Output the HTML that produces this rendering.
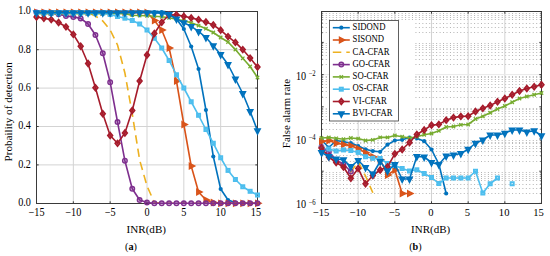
<!DOCTYPE html>
<html><head><meta charset="utf-8"><style>
html,body{margin:0;padding:0;background:#fff;}
body{width:550px;height:256px;overflow:hidden;font-family:"Liberation Serif",serif;}
svg{display:block;}
</style></head><body>
<svg width="550" height="256" viewBox="0 0 550 256">
<defs><clipPath id="cl"><rect x="36.5" y="4" width="221.0" height="199.5"/></clipPath><clipPath id="cr"><rect x="321.5" y="4" width="220.0" height="199.5"/></clipPath></defs>
<rect width="550" height="256" fill="#fff"/>
<line x1="73.33" y1="11.5" x2="73.33" y2="203.5" stroke="#D3D3D3" stroke-width="1"/>
<line x1="110.17" y1="11.5" x2="110.17" y2="203.5" stroke="#D3D3D3" stroke-width="1"/>
<line x1="147.00" y1="11.5" x2="147.00" y2="203.5" stroke="#D3D3D3" stroke-width="1"/>
<line x1="183.83" y1="11.5" x2="183.83" y2="203.5" stroke="#D3D3D3" stroke-width="1"/>
<line x1="220.67" y1="11.5" x2="220.67" y2="203.5" stroke="#D3D3D3" stroke-width="1"/>
<line x1="36.5" y1="164.90" x2="257.5" y2="164.90" stroke="#D3D3D3" stroke-width="1"/>
<line x1="36.5" y1="126.50" x2="257.5" y2="126.50" stroke="#D3D3D3" stroke-width="1"/>
<line x1="36.5" y1="88.10" x2="257.5" y2="88.10" stroke="#D3D3D3" stroke-width="1"/>
<line x1="36.5" y1="49.70" x2="257.5" y2="49.70" stroke="#D3D3D3" stroke-width="1"/>
<rect x="36.5" y="11.5" width="221.0" height="192.0" fill="none" stroke="#3A3A3A" stroke-width="1"/>
<line x1="36.50" y1="203.5" x2="36.50" y2="201.3" stroke="#3A3A3A" stroke-width="1"/>
<line x1="36.50" y1="11.5" x2="36.50" y2="13.7" stroke="#3A3A3A" stroke-width="1"/>
<line x1="73.33" y1="203.5" x2="73.33" y2="201.3" stroke="#3A3A3A" stroke-width="1"/>
<line x1="73.33" y1="11.5" x2="73.33" y2="13.7" stroke="#3A3A3A" stroke-width="1"/>
<line x1="110.17" y1="203.5" x2="110.17" y2="201.3" stroke="#3A3A3A" stroke-width="1"/>
<line x1="110.17" y1="11.5" x2="110.17" y2="13.7" stroke="#3A3A3A" stroke-width="1"/>
<line x1="147.00" y1="203.5" x2="147.00" y2="201.3" stroke="#3A3A3A" stroke-width="1"/>
<line x1="147.00" y1="11.5" x2="147.00" y2="13.7" stroke="#3A3A3A" stroke-width="1"/>
<line x1="183.83" y1="203.5" x2="183.83" y2="201.3" stroke="#3A3A3A" stroke-width="1"/>
<line x1="183.83" y1="11.5" x2="183.83" y2="13.7" stroke="#3A3A3A" stroke-width="1"/>
<line x1="220.67" y1="203.5" x2="220.67" y2="201.3" stroke="#3A3A3A" stroke-width="1"/>
<line x1="220.67" y1="11.5" x2="220.67" y2="13.7" stroke="#3A3A3A" stroke-width="1"/>
<line x1="257.50" y1="203.5" x2="257.50" y2="201.3" stroke="#3A3A3A" stroke-width="1"/>
<line x1="257.50" y1="11.5" x2="257.50" y2="13.7" stroke="#3A3A3A" stroke-width="1"/>
<line x1="36.5" y1="203.50" x2="38.7" y2="203.50" stroke="#3A3A3A" stroke-width="1"/>
<line x1="257.5" y1="203.50" x2="255.3" y2="203.50" stroke="#3A3A3A" stroke-width="1"/>
<line x1="36.5" y1="164.90" x2="38.7" y2="164.90" stroke="#3A3A3A" stroke-width="1"/>
<line x1="257.5" y1="164.90" x2="255.3" y2="164.90" stroke="#3A3A3A" stroke-width="1"/>
<line x1="36.5" y1="126.50" x2="38.7" y2="126.50" stroke="#3A3A3A" stroke-width="1"/>
<line x1="257.5" y1="126.50" x2="255.3" y2="126.50" stroke="#3A3A3A" stroke-width="1"/>
<line x1="36.5" y1="88.10" x2="38.7" y2="88.10" stroke="#3A3A3A" stroke-width="1"/>
<line x1="257.5" y1="88.10" x2="255.3" y2="88.10" stroke="#3A3A3A" stroke-width="1"/>
<line x1="36.5" y1="49.70" x2="38.7" y2="49.70" stroke="#3A3A3A" stroke-width="1"/>
<line x1="257.5" y1="49.70" x2="255.3" y2="49.70" stroke="#3A3A3A" stroke-width="1"/>
<line x1="36.5" y1="11.50" x2="38.7" y2="11.50" stroke="#3A3A3A" stroke-width="1"/>
<line x1="257.5" y1="11.50" x2="255.3" y2="11.50" stroke="#3A3A3A" stroke-width="1"/>
<g>
<path d="M36.50,12.20 L43.87,12.20 L51.23,12.20 L58.60,12.20 L65.97,12.20 L73.33,12.20 L80.70,12.20 L88.07,12.20 L95.43,12.20 L102.80,12.20 L110.17,12.20 L117.53,12.20 L124.90,12.20 L132.27,12.20 L139.63,12.20 L147.00,12.20 L154.37,12.20 L161.73,12.20 L169.10,13.20 L176.47,19.00 L183.83,29.00 L191.20,46.50 L198.57,69.00 L205.93,110.00 L213.30,156.50 L220.67,189.00 L228.03,200.00 L235.40,202.50 L242.77,203.30 L250.13,203.30 L257.50,203.30" fill="none" stroke="#0072BD" stroke-width="1.6" stroke-linejoin="round"/>
<circle cx="36.50" cy="12.20" r="2.1" fill="#0072BD"/>
<circle cx="43.87" cy="12.20" r="2.1" fill="#0072BD"/>
<circle cx="51.23" cy="12.20" r="2.1" fill="#0072BD"/>
<circle cx="58.60" cy="12.20" r="2.1" fill="#0072BD"/>
<circle cx="65.97" cy="12.20" r="2.1" fill="#0072BD"/>
<circle cx="73.33" cy="12.20" r="2.1" fill="#0072BD"/>
<circle cx="80.70" cy="12.20" r="2.1" fill="#0072BD"/>
<circle cx="88.07" cy="12.20" r="2.1" fill="#0072BD"/>
<circle cx="95.43" cy="12.20" r="2.1" fill="#0072BD"/>
<circle cx="102.80" cy="12.20" r="2.1" fill="#0072BD"/>
<circle cx="110.17" cy="12.20" r="2.1" fill="#0072BD"/>
<circle cx="117.53" cy="12.20" r="2.1" fill="#0072BD"/>
<circle cx="124.90" cy="12.20" r="2.1" fill="#0072BD"/>
<circle cx="132.27" cy="12.20" r="2.1" fill="#0072BD"/>
<circle cx="139.63" cy="12.20" r="2.1" fill="#0072BD"/>
<circle cx="147.00" cy="12.20" r="2.1" fill="#0072BD"/>
<circle cx="154.37" cy="12.20" r="2.1" fill="#0072BD"/>
<circle cx="161.73" cy="12.20" r="2.1" fill="#0072BD"/>
<circle cx="169.10" cy="13.20" r="2.1" fill="#0072BD"/>
<circle cx="176.47" cy="19.00" r="2.1" fill="#0072BD"/>
<circle cx="183.83" cy="29.00" r="2.1" fill="#0072BD"/>
<circle cx="191.20" cy="46.50" r="2.1" fill="#0072BD"/>
<circle cx="198.57" cy="69.00" r="2.1" fill="#0072BD"/>
<circle cx="205.93" cy="110.00" r="2.1" fill="#0072BD"/>
<circle cx="213.30" cy="156.50" r="2.1" fill="#0072BD"/>
<circle cx="220.67" cy="189.00" r="2.1" fill="#0072BD"/>
<circle cx="228.03" cy="200.00" r="2.1" fill="#0072BD"/>
<circle cx="235.40" cy="202.50" r="2.1" fill="#0072BD"/>
<circle cx="242.77" cy="203.30" r="2.1" fill="#0072BD"/>
<circle cx="250.13" cy="203.30" r="2.1" fill="#0072BD"/>
<circle cx="257.50" cy="203.30" r="2.1" fill="#0072BD"/>
<path d="M36.50,12.40 L43.87,12.40 L51.23,12.40 L58.60,12.40 L65.97,12.40 L73.33,12.40 L80.70,12.40 L88.07,12.40 L95.43,12.40 L102.80,12.40 L110.17,12.40 L117.53,12.40 L124.90,12.40 L132.27,12.40 L139.63,12.40 L147.00,12.50 L154.37,20.50 L161.73,30.00 L169.10,48.00 L176.47,81.00 L183.83,124.50 L191.20,166.00 L198.57,192.00 L205.93,200.00 L213.30,202.50 L220.67,203.30 L228.03,203.30 L235.40,203.30 L242.77,203.30 L250.13,203.30 L257.50,203.30" fill="none" stroke="#D95319" stroke-width="1.6" stroke-linejoin="round"/>
<path d="M34.80,9.80L39.80,12.40L34.80,15.00Z" fill="#D95319" fill-opacity="0.9" stroke="#D95319" stroke-width="1.6" stroke-linejoin="miter"/>
<path d="M42.17,9.80L47.17,12.40L42.17,15.00Z" fill="#D95319" fill-opacity="0.9" stroke="#D95319" stroke-width="1.6" stroke-linejoin="miter"/>
<path d="M49.53,9.80L54.53,12.40L49.53,15.00Z" fill="#D95319" fill-opacity="0.9" stroke="#D95319" stroke-width="1.6" stroke-linejoin="miter"/>
<path d="M56.90,9.80L61.90,12.40L56.90,15.00Z" fill="#D95319" fill-opacity="0.9" stroke="#D95319" stroke-width="1.6" stroke-linejoin="miter"/>
<path d="M64.27,9.80L69.27,12.40L64.27,15.00Z" fill="#D95319" fill-opacity="0.9" stroke="#D95319" stroke-width="1.6" stroke-linejoin="miter"/>
<path d="M71.63,9.80L76.63,12.40L71.63,15.00Z" fill="#D95319" fill-opacity="0.9" stroke="#D95319" stroke-width="1.6" stroke-linejoin="miter"/>
<path d="M79.00,9.80L84.00,12.40L79.00,15.00Z" fill="#D95319" fill-opacity="0.9" stroke="#D95319" stroke-width="1.6" stroke-linejoin="miter"/>
<path d="M86.37,9.80L91.37,12.40L86.37,15.00Z" fill="#D95319" fill-opacity="0.9" stroke="#D95319" stroke-width="1.6" stroke-linejoin="miter"/>
<path d="M93.73,9.80L98.73,12.40L93.73,15.00Z" fill="#D95319" fill-opacity="0.9" stroke="#D95319" stroke-width="1.6" stroke-linejoin="miter"/>
<path d="M101.10,9.80L106.10,12.40L101.10,15.00Z" fill="#D95319" fill-opacity="0.9" stroke="#D95319" stroke-width="1.6" stroke-linejoin="miter"/>
<path d="M108.47,9.80L113.47,12.40L108.47,15.00Z" fill="#D95319" fill-opacity="0.9" stroke="#D95319" stroke-width="1.6" stroke-linejoin="miter"/>
<path d="M115.83,9.80L120.83,12.40L115.83,15.00Z" fill="#D95319" fill-opacity="0.9" stroke="#D95319" stroke-width="1.6" stroke-linejoin="miter"/>
<path d="M123.20,9.80L128.20,12.40L123.20,15.00Z" fill="#D95319" fill-opacity="0.9" stroke="#D95319" stroke-width="1.6" stroke-linejoin="miter"/>
<path d="M130.57,9.80L135.57,12.40L130.57,15.00Z" fill="#D95319" fill-opacity="0.9" stroke="#D95319" stroke-width="1.6" stroke-linejoin="miter"/>
<path d="M137.93,9.80L142.93,12.40L137.93,15.00Z" fill="#D95319" fill-opacity="0.9" stroke="#D95319" stroke-width="1.6" stroke-linejoin="miter"/>
<path d="M145.30,9.90L150.30,12.50L145.30,15.10Z" fill="#D95319" fill-opacity="0.9" stroke="#D95319" stroke-width="1.6" stroke-linejoin="miter"/>
<path d="M152.67,17.90L157.67,20.50L152.67,23.10Z" fill="#D95319" fill-opacity="0.9" stroke="#D95319" stroke-width="1.6" stroke-linejoin="miter"/>
<path d="M160.03,27.40L165.03,30.00L160.03,32.60Z" fill="#D95319" fill-opacity="0.9" stroke="#D95319" stroke-width="1.6" stroke-linejoin="miter"/>
<path d="M167.40,45.40L172.40,48.00L167.40,50.60Z" fill="#D95319" fill-opacity="0.9" stroke="#D95319" stroke-width="1.6" stroke-linejoin="miter"/>
<path d="M174.77,78.40L179.77,81.00L174.77,83.60Z" fill="#D95319" fill-opacity="0.9" stroke="#D95319" stroke-width="1.6" stroke-linejoin="miter"/>
<path d="M182.13,121.90L187.13,124.50L182.13,127.10Z" fill="#D95319" fill-opacity="0.9" stroke="#D95319" stroke-width="1.6" stroke-linejoin="miter"/>
<path d="M189.50,163.40L194.50,166.00L189.50,168.60Z" fill="#D95319" fill-opacity="0.9" stroke="#D95319" stroke-width="1.6" stroke-linejoin="miter"/>
<path d="M196.87,189.40L201.87,192.00L196.87,194.60Z" fill="#D95319" fill-opacity="0.9" stroke="#D95319" stroke-width="1.6" stroke-linejoin="miter"/>
<path d="M204.23,197.40L209.23,200.00L204.23,202.60Z" fill="#D95319" fill-opacity="0.9" stroke="#D95319" stroke-width="1.6" stroke-linejoin="miter"/>
<path d="M211.60,199.90L216.60,202.50L211.60,205.10Z" fill="#D95319" fill-opacity="0.9" stroke="#D95319" stroke-width="1.6" stroke-linejoin="miter"/>
<path d="M218.97,200.70L223.97,203.30L218.97,205.90Z" fill="#D95319" fill-opacity="0.9" stroke="#D95319" stroke-width="1.6" stroke-linejoin="miter"/>
<path d="M226.33,200.70L231.33,203.30L226.33,205.90Z" fill="#D95319" fill-opacity="0.9" stroke="#D95319" stroke-width="1.6" stroke-linejoin="miter"/>
<path d="M233.70,200.70L238.70,203.30L233.70,205.90Z" fill="#D95319" fill-opacity="0.9" stroke="#D95319" stroke-width="1.6" stroke-linejoin="miter"/>
<path d="M241.07,200.70L246.07,203.30L241.07,205.90Z" fill="#D95319" fill-opacity="0.9" stroke="#D95319" stroke-width="1.6" stroke-linejoin="miter"/>
<path d="M248.43,200.70L253.43,203.30L248.43,205.90Z" fill="#D95319" fill-opacity="0.9" stroke="#D95319" stroke-width="1.6" stroke-linejoin="miter"/>
<path d="M255.80,200.70L260.80,203.30L255.80,205.90Z" fill="#D95319" fill-opacity="0.9" stroke="#D95319" stroke-width="1.6" stroke-linejoin="miter"/>
<path d="M36.50,11.50 L43.87,11.50 L51.23,11.50 L58.60,11.50 L65.97,11.50 L73.33,11.50 L80.70,11.80 L88.07,13.00 L95.43,16.00 L102.80,21.00 L110.17,30.00 L117.53,45.00 L124.90,73.00 L132.27,114.00 L139.63,160.00 L147.00,186.00 L154.37,202.50 L161.73,203.30 L169.10,203.30 L176.47,203.30 L183.83,203.30 L191.20,203.30 L198.57,203.30 L205.93,203.30 L213.30,203.30 L220.67,203.30 L228.03,203.30 L235.40,203.30 L242.77,203.30 L250.13,203.30 L257.50,203.30" fill="none" stroke="#EDB120" stroke-width="1.6" stroke-linejoin="round" stroke-dasharray="8.5,5" stroke-dashoffset="0"/>
<path d="M36.50,12.50 L43.87,12.80 L51.23,13.30 L58.60,14.30 L65.97,15.90 L73.33,16.90 L80.70,18.40 L88.07,24.00 L95.43,35.00 L102.80,53.30 L110.17,82.30 L117.53,122.00 L124.90,160.70 L132.27,188.80 L139.63,200.00 L147.00,202.50 L154.37,203.30 L161.73,203.30 L169.10,203.30 L176.47,203.30 L183.83,203.30 L191.20,203.30 L198.57,203.30 L205.93,203.30 L213.30,203.30 L220.67,203.30 L228.03,203.30 L235.40,203.30 L242.77,203.30 L250.13,203.30 L257.50,203.30" fill="none" stroke="#7E2F8E" stroke-width="1.6" stroke-linejoin="round"/>
<circle cx="36.50" cy="12.50" r="2.3" fill="#7E2F8E" fill-opacity="0.35" stroke="#7E2F8E" stroke-width="1.36"/>
<circle cx="43.87" cy="12.80" r="2.3" fill="#7E2F8E" fill-opacity="0.35" stroke="#7E2F8E" stroke-width="1.36"/>
<circle cx="51.23" cy="13.30" r="2.3" fill="#7E2F8E" fill-opacity="0.35" stroke="#7E2F8E" stroke-width="1.36"/>
<circle cx="58.60" cy="14.30" r="2.3" fill="#7E2F8E" fill-opacity="0.35" stroke="#7E2F8E" stroke-width="1.36"/>
<circle cx="65.97" cy="15.90" r="2.3" fill="#7E2F8E" fill-opacity="0.35" stroke="#7E2F8E" stroke-width="1.36"/>
<circle cx="73.33" cy="16.90" r="2.3" fill="#7E2F8E" fill-opacity="0.35" stroke="#7E2F8E" stroke-width="1.36"/>
<circle cx="80.70" cy="18.40" r="2.3" fill="#7E2F8E" fill-opacity="0.35" stroke="#7E2F8E" stroke-width="1.36"/>
<circle cx="88.07" cy="24.00" r="2.3" fill="#7E2F8E" fill-opacity="0.35" stroke="#7E2F8E" stroke-width="1.36"/>
<circle cx="95.43" cy="35.00" r="2.3" fill="#7E2F8E" fill-opacity="0.35" stroke="#7E2F8E" stroke-width="1.36"/>
<circle cx="102.80" cy="53.30" r="2.3" fill="#7E2F8E" fill-opacity="0.35" stroke="#7E2F8E" stroke-width="1.36"/>
<circle cx="110.17" cy="82.30" r="2.3" fill="#7E2F8E" fill-opacity="0.35" stroke="#7E2F8E" stroke-width="1.36"/>
<circle cx="117.53" cy="122.00" r="2.3" fill="#7E2F8E" fill-opacity="0.35" stroke="#7E2F8E" stroke-width="1.36"/>
<circle cx="124.90" cy="160.70" r="2.3" fill="#7E2F8E" fill-opacity="0.35" stroke="#7E2F8E" stroke-width="1.36"/>
<circle cx="132.27" cy="188.80" r="2.3" fill="#7E2F8E" fill-opacity="0.35" stroke="#7E2F8E" stroke-width="1.36"/>
<circle cx="139.63" cy="200.00" r="2.3" fill="#7E2F8E" fill-opacity="0.35" stroke="#7E2F8E" stroke-width="1.36"/>
<circle cx="147.00" cy="202.50" r="2.3" fill="#7E2F8E" fill-opacity="0.35" stroke="#7E2F8E" stroke-width="1.36"/>
<circle cx="154.37" cy="203.30" r="2.3" fill="#7E2F8E" fill-opacity="0.35" stroke="#7E2F8E" stroke-width="1.36"/>
<circle cx="161.73" cy="203.30" r="2.3" fill="#7E2F8E" fill-opacity="0.35" stroke="#7E2F8E" stroke-width="1.36"/>
<circle cx="169.10" cy="203.30" r="2.3" fill="#7E2F8E" fill-opacity="0.35" stroke="#7E2F8E" stroke-width="1.36"/>
<circle cx="176.47" cy="203.30" r="2.3" fill="#7E2F8E" fill-opacity="0.35" stroke="#7E2F8E" stroke-width="1.36"/>
<circle cx="183.83" cy="203.30" r="2.3" fill="#7E2F8E" fill-opacity="0.35" stroke="#7E2F8E" stroke-width="1.36"/>
<circle cx="191.20" cy="203.30" r="2.3" fill="#7E2F8E" fill-opacity="0.35" stroke="#7E2F8E" stroke-width="1.36"/>
<circle cx="198.57" cy="203.30" r="2.3" fill="#7E2F8E" fill-opacity="0.35" stroke="#7E2F8E" stroke-width="1.36"/>
<circle cx="205.93" cy="203.30" r="2.3" fill="#7E2F8E" fill-opacity="0.35" stroke="#7E2F8E" stroke-width="1.36"/>
<circle cx="213.30" cy="203.30" r="2.3" fill="#7E2F8E" fill-opacity="0.35" stroke="#7E2F8E" stroke-width="1.36"/>
<circle cx="220.67" cy="203.30" r="2.3" fill="#7E2F8E" fill-opacity="0.35" stroke="#7E2F8E" stroke-width="1.36"/>
<circle cx="228.03" cy="203.30" r="2.3" fill="#7E2F8E" fill-opacity="0.35" stroke="#7E2F8E" stroke-width="1.36"/>
<circle cx="235.40" cy="203.30" r="2.3" fill="#7E2F8E" fill-opacity="0.35" stroke="#7E2F8E" stroke-width="1.36"/>
<circle cx="242.77" cy="203.30" r="2.3" fill="#7E2F8E" fill-opacity="0.35" stroke="#7E2F8E" stroke-width="1.36"/>
<circle cx="250.13" cy="203.30" r="2.3" fill="#7E2F8E" fill-opacity="0.35" stroke="#7E2F8E" stroke-width="1.36"/>
<circle cx="257.50" cy="203.30" r="2.3" fill="#7E2F8E" fill-opacity="0.35" stroke="#7E2F8E" stroke-width="1.36"/>
<path d="M36.50,13.60 L43.87,13.60 L51.23,13.60 L58.60,13.60 L65.97,13.60 L73.33,13.60 L80.70,13.60 L88.07,13.60 L95.43,13.60 L102.80,13.60 L110.17,13.60 L117.53,13.60 L124.90,13.60 L132.27,15.20 L139.63,15.50 L147.00,15.80 L154.37,16.20 L161.73,16.80 L169.10,17.80 L176.47,19.20 L183.83,20.70 L191.20,22.80 L198.57,25.60 L205.93,28.70 L213.30,32.50 L220.67,37.50 L228.03,42.00 L235.40,49.60 L242.77,58.30 L250.13,66.50 L257.50,77.50" fill="none" stroke="#77AC30" stroke-width="1.6" stroke-linejoin="round"/>
<path d="M34.80,11.90L38.20,15.30M34.80,15.30L38.20,11.90" stroke="#77AC30" stroke-width="1.28"/>
<path d="M42.17,11.90L45.57,15.30M42.17,15.30L45.57,11.90" stroke="#77AC30" stroke-width="1.28"/>
<path d="M49.53,11.90L52.93,15.30M49.53,15.30L52.93,11.90" stroke="#77AC30" stroke-width="1.28"/>
<path d="M56.90,11.90L60.30,15.30M56.90,15.30L60.30,11.90" stroke="#77AC30" stroke-width="1.28"/>
<path d="M64.27,11.90L67.67,15.30M64.27,15.30L67.67,11.90" stroke="#77AC30" stroke-width="1.28"/>
<path d="M71.63,11.90L75.03,15.30M71.63,15.30L75.03,11.90" stroke="#77AC30" stroke-width="1.28"/>
<path d="M79.00,11.90L82.40,15.30M79.00,15.30L82.40,11.90" stroke="#77AC30" stroke-width="1.28"/>
<path d="M86.37,11.90L89.77,15.30M86.37,15.30L89.77,11.90" stroke="#77AC30" stroke-width="1.28"/>
<path d="M93.73,11.90L97.13,15.30M93.73,15.30L97.13,11.90" stroke="#77AC30" stroke-width="1.28"/>
<path d="M101.10,11.90L104.50,15.30M101.10,15.30L104.50,11.90" stroke="#77AC30" stroke-width="1.28"/>
<path d="M108.47,11.90L111.87,15.30M108.47,15.30L111.87,11.90" stroke="#77AC30" stroke-width="1.28"/>
<path d="M115.83,11.90L119.23,15.30M115.83,15.30L119.23,11.90" stroke="#77AC30" stroke-width="1.28"/>
<path d="M123.20,11.90L126.60,15.30M123.20,15.30L126.60,11.90" stroke="#77AC30" stroke-width="1.28"/>
<path d="M130.57,13.50L133.97,16.90M130.57,16.90L133.97,13.50" stroke="#77AC30" stroke-width="1.28"/>
<path d="M137.93,13.80L141.33,17.20M137.93,17.20L141.33,13.80" stroke="#77AC30" stroke-width="1.28"/>
<path d="M145.30,14.10L148.70,17.50M145.30,17.50L148.70,14.10" stroke="#77AC30" stroke-width="1.28"/>
<path d="M152.67,14.50L156.07,17.90M152.67,17.90L156.07,14.50" stroke="#77AC30" stroke-width="1.28"/>
<path d="M160.03,15.10L163.43,18.50M160.03,18.50L163.43,15.10" stroke="#77AC30" stroke-width="1.28"/>
<path d="M167.40,16.10L170.80,19.50M167.40,19.50L170.80,16.10" stroke="#77AC30" stroke-width="1.28"/>
<path d="M174.77,17.50L178.17,20.90M174.77,20.90L178.17,17.50" stroke="#77AC30" stroke-width="1.28"/>
<path d="M182.13,19.00L185.53,22.40M182.13,22.40L185.53,19.00" stroke="#77AC30" stroke-width="1.28"/>
<path d="M189.50,21.10L192.90,24.50M189.50,24.50L192.90,21.10" stroke="#77AC30" stroke-width="1.28"/>
<path d="M196.87,23.90L200.27,27.30M196.87,27.30L200.27,23.90" stroke="#77AC30" stroke-width="1.28"/>
<path d="M204.23,27.00L207.63,30.40M204.23,30.40L207.63,27.00" stroke="#77AC30" stroke-width="1.28"/>
<path d="M211.60,30.80L215.00,34.20M211.60,34.20L215.00,30.80" stroke="#77AC30" stroke-width="1.28"/>
<path d="M218.97,35.80L222.37,39.20M218.97,39.20L222.37,35.80" stroke="#77AC30" stroke-width="1.28"/>
<path d="M226.33,40.30L229.73,43.70M226.33,43.70L229.73,40.30" stroke="#77AC30" stroke-width="1.28"/>
<path d="M233.70,47.90L237.10,51.30M233.70,51.30L237.10,47.90" stroke="#77AC30" stroke-width="1.28"/>
<path d="M241.07,56.60L244.47,60.00M241.07,60.00L244.47,56.60" stroke="#77AC30" stroke-width="1.28"/>
<path d="M248.43,64.80L251.83,68.20M248.43,68.20L251.83,64.80" stroke="#77AC30" stroke-width="1.28"/>
<path d="M255.80,75.80L259.20,79.20M255.80,79.20L259.20,75.80" stroke="#77AC30" stroke-width="1.28"/>
<path d="M36.50,13.00 L43.87,13.00 L51.23,13.00 L58.60,13.00 L65.97,13.00 L73.33,13.00 L80.70,13.00 L88.07,13.00 L95.43,13.00 L102.80,13.00 L110.17,14.50 L117.53,16.50 L124.90,18.20 L132.27,20.50 L139.63,24.00 L147.00,30.00 L154.37,38.30 L161.73,48.00 L169.10,60.50 L176.47,74.75 L183.83,88.00 L191.20,101.75 L198.57,115.30 L205.93,129.50 L213.30,143.25 L220.67,157.75 L228.03,170.40 L235.40,179.50 L242.77,186.75 L250.13,191.30 L257.50,195.00" fill="none" stroke="#4DBEEE" stroke-width="1.6" stroke-linejoin="round"/>
<rect x="34.95" y="11.45" width="3.10" height="3.10" fill="none" stroke="#4DBEEE" stroke-width="1.9"/>
<rect x="42.32" y="11.45" width="3.10" height="3.10" fill="none" stroke="#4DBEEE" stroke-width="1.9"/>
<rect x="49.68" y="11.45" width="3.10" height="3.10" fill="none" stroke="#4DBEEE" stroke-width="1.9"/>
<rect x="57.05" y="11.45" width="3.10" height="3.10" fill="none" stroke="#4DBEEE" stroke-width="1.9"/>
<rect x="64.42" y="11.45" width="3.10" height="3.10" fill="none" stroke="#4DBEEE" stroke-width="1.9"/>
<rect x="71.78" y="11.45" width="3.10" height="3.10" fill="none" stroke="#4DBEEE" stroke-width="1.9"/>
<rect x="79.15" y="11.45" width="3.10" height="3.10" fill="none" stroke="#4DBEEE" stroke-width="1.9"/>
<rect x="86.52" y="11.45" width="3.10" height="3.10" fill="none" stroke="#4DBEEE" stroke-width="1.9"/>
<rect x="93.88" y="11.45" width="3.10" height="3.10" fill="none" stroke="#4DBEEE" stroke-width="1.9"/>
<rect x="101.25" y="11.45" width="3.10" height="3.10" fill="none" stroke="#4DBEEE" stroke-width="1.9"/>
<rect x="108.62" y="12.95" width="3.10" height="3.10" fill="none" stroke="#4DBEEE" stroke-width="1.9"/>
<rect x="115.98" y="14.95" width="3.10" height="3.10" fill="none" stroke="#4DBEEE" stroke-width="1.9"/>
<rect x="123.35" y="16.65" width="3.10" height="3.10" fill="none" stroke="#4DBEEE" stroke-width="1.9"/>
<rect x="130.72" y="18.95" width="3.10" height="3.10" fill="none" stroke="#4DBEEE" stroke-width="1.9"/>
<rect x="138.08" y="22.45" width="3.10" height="3.10" fill="none" stroke="#4DBEEE" stroke-width="1.9"/>
<rect x="145.45" y="28.45" width="3.10" height="3.10" fill="none" stroke="#4DBEEE" stroke-width="1.9"/>
<rect x="152.82" y="36.75" width="3.10" height="3.10" fill="none" stroke="#4DBEEE" stroke-width="1.9"/>
<rect x="160.18" y="46.45" width="3.10" height="3.10" fill="none" stroke="#4DBEEE" stroke-width="1.9"/>
<rect x="167.55" y="58.95" width="3.10" height="3.10" fill="none" stroke="#4DBEEE" stroke-width="1.9"/>
<rect x="174.92" y="73.20" width="3.10" height="3.10" fill="none" stroke="#4DBEEE" stroke-width="1.9"/>
<rect x="182.28" y="86.45" width="3.10" height="3.10" fill="none" stroke="#4DBEEE" stroke-width="1.9"/>
<rect x="189.65" y="100.20" width="3.10" height="3.10" fill="none" stroke="#4DBEEE" stroke-width="1.9"/>
<rect x="197.02" y="113.75" width="3.10" height="3.10" fill="none" stroke="#4DBEEE" stroke-width="1.9"/>
<rect x="204.38" y="127.95" width="3.10" height="3.10" fill="none" stroke="#4DBEEE" stroke-width="1.9"/>
<rect x="211.75" y="141.70" width="3.10" height="3.10" fill="none" stroke="#4DBEEE" stroke-width="1.9"/>
<rect x="219.12" y="156.20" width="3.10" height="3.10" fill="none" stroke="#4DBEEE" stroke-width="1.9"/>
<rect x="226.48" y="168.85" width="3.10" height="3.10" fill="none" stroke="#4DBEEE" stroke-width="1.9"/>
<rect x="233.85" y="177.95" width="3.10" height="3.10" fill="none" stroke="#4DBEEE" stroke-width="1.9"/>
<rect x="241.22" y="185.20" width="3.10" height="3.10" fill="none" stroke="#4DBEEE" stroke-width="1.9"/>
<rect x="248.58" y="189.75" width="3.10" height="3.10" fill="none" stroke="#4DBEEE" stroke-width="1.9"/>
<rect x="255.95" y="193.45" width="3.10" height="3.10" fill="none" stroke="#4DBEEE" stroke-width="1.9"/>
<path d="M36.50,17.00 L43.87,18.25 L51.23,19.60 L58.60,22.50 L65.97,26.80 L73.33,34.40 L80.70,46.25 L88.07,63.50 L95.43,87.75 L102.80,113.75 L110.17,135.50 L117.53,143.30 L124.90,133.00 L132.27,110.50 L139.63,81.00 L147.00,55.00 L154.37,33.50 L161.73,22.30 L169.10,15.00 L176.47,14.80 L183.83,16.30 L191.20,17.90 L198.57,19.70 L205.93,22.00 L213.30,25.00 L220.67,30.20 L228.03,36.60 L235.40,42.40 L242.77,49.60 L250.13,58.10 L257.50,67.00" fill="none" stroke="#A61B2B" stroke-width="1.6" stroke-linejoin="round"/>
<path d="M36.50,14.10L38.90,17.00L36.50,19.90L34.10,17.00Z" fill="#A61B2B" fill-opacity="0.75" stroke="#A61B2B" stroke-width="1.6"/>
<path d="M43.87,15.35L46.27,18.25L43.87,21.15L41.47,18.25Z" fill="#A61B2B" fill-opacity="0.75" stroke="#A61B2B" stroke-width="1.6"/>
<path d="M51.23,16.70L53.63,19.60L51.23,22.50L48.83,19.60Z" fill="#A61B2B" fill-opacity="0.75" stroke="#A61B2B" stroke-width="1.6"/>
<path d="M58.60,19.60L61.00,22.50L58.60,25.40L56.20,22.50Z" fill="#A61B2B" fill-opacity="0.75" stroke="#A61B2B" stroke-width="1.6"/>
<path d="M65.97,23.90L68.37,26.80L65.97,29.70L63.57,26.80Z" fill="#A61B2B" fill-opacity="0.75" stroke="#A61B2B" stroke-width="1.6"/>
<path d="M73.33,31.50L75.73,34.40L73.33,37.30L70.93,34.40Z" fill="#A61B2B" fill-opacity="0.75" stroke="#A61B2B" stroke-width="1.6"/>
<path d="M80.70,43.35L83.10,46.25L80.70,49.15L78.30,46.25Z" fill="#A61B2B" fill-opacity="0.75" stroke="#A61B2B" stroke-width="1.6"/>
<path d="M88.07,60.60L90.47,63.50L88.07,66.40L85.67,63.50Z" fill="#A61B2B" fill-opacity="0.75" stroke="#A61B2B" stroke-width="1.6"/>
<path d="M95.43,84.85L97.83,87.75L95.43,90.65L93.03,87.75Z" fill="#A61B2B" fill-opacity="0.75" stroke="#A61B2B" stroke-width="1.6"/>
<path d="M102.80,110.85L105.20,113.75L102.80,116.65L100.40,113.75Z" fill="#A61B2B" fill-opacity="0.75" stroke="#A61B2B" stroke-width="1.6"/>
<path d="M110.17,132.60L112.57,135.50L110.17,138.40L107.77,135.50Z" fill="#A61B2B" fill-opacity="0.75" stroke="#A61B2B" stroke-width="1.6"/>
<path d="M117.53,140.40L119.93,143.30L117.53,146.20L115.13,143.30Z" fill="#A61B2B" fill-opacity="0.75" stroke="#A61B2B" stroke-width="1.6"/>
<path d="M124.90,130.10L127.30,133.00L124.90,135.90L122.50,133.00Z" fill="#A61B2B" fill-opacity="0.75" stroke="#A61B2B" stroke-width="1.6"/>
<path d="M132.27,107.60L134.67,110.50L132.27,113.40L129.87,110.50Z" fill="#A61B2B" fill-opacity="0.75" stroke="#A61B2B" stroke-width="1.6"/>
<path d="M139.63,78.10L142.03,81.00L139.63,83.90L137.23,81.00Z" fill="#A61B2B" fill-opacity="0.75" stroke="#A61B2B" stroke-width="1.6"/>
<path d="M147.00,52.10L149.40,55.00L147.00,57.90L144.60,55.00Z" fill="#A61B2B" fill-opacity="0.75" stroke="#A61B2B" stroke-width="1.6"/>
<path d="M154.37,30.60L156.77,33.50L154.37,36.40L151.97,33.50Z" fill="#A61B2B" fill-opacity="0.75" stroke="#A61B2B" stroke-width="1.6"/>
<path d="M161.73,19.40L164.13,22.30L161.73,25.20L159.33,22.30Z" fill="#A61B2B" fill-opacity="0.75" stroke="#A61B2B" stroke-width="1.6"/>
<path d="M169.10,12.10L171.50,15.00L169.10,17.90L166.70,15.00Z" fill="#A61B2B" fill-opacity="0.75" stroke="#A61B2B" stroke-width="1.6"/>
<path d="M176.47,11.90L178.87,14.80L176.47,17.70L174.07,14.80Z" fill="#A61B2B" fill-opacity="0.75" stroke="#A61B2B" stroke-width="1.6"/>
<path d="M183.83,13.40L186.23,16.30L183.83,19.20L181.43,16.30Z" fill="#A61B2B" fill-opacity="0.75" stroke="#A61B2B" stroke-width="1.6"/>
<path d="M191.20,15.00L193.60,17.90L191.20,20.80L188.80,17.90Z" fill="#A61B2B" fill-opacity="0.75" stroke="#A61B2B" stroke-width="1.6"/>
<path d="M198.57,16.80L200.97,19.70L198.57,22.60L196.17,19.70Z" fill="#A61B2B" fill-opacity="0.75" stroke="#A61B2B" stroke-width="1.6"/>
<path d="M205.93,19.10L208.33,22.00L205.93,24.90L203.53,22.00Z" fill="#A61B2B" fill-opacity="0.75" stroke="#A61B2B" stroke-width="1.6"/>
<path d="M213.30,22.10L215.70,25.00L213.30,27.90L210.90,25.00Z" fill="#A61B2B" fill-opacity="0.75" stroke="#A61B2B" stroke-width="1.6"/>
<path d="M220.67,27.30L223.07,30.20L220.67,33.10L218.27,30.20Z" fill="#A61B2B" fill-opacity="0.75" stroke="#A61B2B" stroke-width="1.6"/>
<path d="M228.03,33.70L230.43,36.60L228.03,39.50L225.63,36.60Z" fill="#A61B2B" fill-opacity="0.75" stroke="#A61B2B" stroke-width="1.6"/>
<path d="M235.40,39.50L237.80,42.40L235.40,45.30L233.00,42.40Z" fill="#A61B2B" fill-opacity="0.75" stroke="#A61B2B" stroke-width="1.6"/>
<path d="M242.77,46.70L245.17,49.60L242.77,52.50L240.37,49.60Z" fill="#A61B2B" fill-opacity="0.75" stroke="#A61B2B" stroke-width="1.6"/>
<path d="M250.13,55.20L252.53,58.10L250.13,61.00L247.73,58.10Z" fill="#A61B2B" fill-opacity="0.75" stroke="#A61B2B" stroke-width="1.6"/>
<path d="M257.50,64.10L259.90,67.00L257.50,69.90L255.10,67.00Z" fill="#A61B2B" fill-opacity="0.75" stroke="#A61B2B" stroke-width="1.6"/>
<path d="M36.50,12.80 L43.87,12.80 L51.23,12.80 L58.60,12.80 L65.97,12.80 L73.33,12.80 L80.70,12.80 L88.07,12.80 L95.43,12.80 L102.80,12.80 L110.17,12.80 L117.53,12.80 L124.90,12.80 L132.27,12.80 L139.63,12.80 L147.00,12.80 L154.37,12.90 L161.73,13.30 L169.10,14.60 L176.47,19.00 L183.83,22.70 L191.20,26.40 L198.57,31.40 L205.93,37.50 L213.30,45.80 L220.67,54.50 L228.03,64.50 L235.40,79.00 L242.77,93.50 L250.13,111.50 L257.50,130.75" fill="none" stroke="#0072BD" stroke-width="1.6" stroke-linejoin="round"/>
<path d="M33.90,11.10L39.10,11.10L36.50,16.10Z" fill="#0072BD" fill-opacity="0.9" stroke="#0072BD" stroke-width="1.6" stroke-linejoin="miter"/>
<path d="M41.27,11.10L46.47,11.10L43.87,16.10Z" fill="#0072BD" fill-opacity="0.9" stroke="#0072BD" stroke-width="1.6" stroke-linejoin="miter"/>
<path d="M48.63,11.10L53.83,11.10L51.23,16.10Z" fill="#0072BD" fill-opacity="0.9" stroke="#0072BD" stroke-width="1.6" stroke-linejoin="miter"/>
<path d="M56.00,11.10L61.20,11.10L58.60,16.10Z" fill="#0072BD" fill-opacity="0.9" stroke="#0072BD" stroke-width="1.6" stroke-linejoin="miter"/>
<path d="M63.37,11.10L68.57,11.10L65.97,16.10Z" fill="#0072BD" fill-opacity="0.9" stroke="#0072BD" stroke-width="1.6" stroke-linejoin="miter"/>
<path d="M70.73,11.10L75.93,11.10L73.33,16.10Z" fill="#0072BD" fill-opacity="0.9" stroke="#0072BD" stroke-width="1.6" stroke-linejoin="miter"/>
<path d="M78.10,11.10L83.30,11.10L80.70,16.10Z" fill="#0072BD" fill-opacity="0.9" stroke="#0072BD" stroke-width="1.6" stroke-linejoin="miter"/>
<path d="M85.47,11.10L90.67,11.10L88.07,16.10Z" fill="#0072BD" fill-opacity="0.9" stroke="#0072BD" stroke-width="1.6" stroke-linejoin="miter"/>
<path d="M92.83,11.10L98.03,11.10L95.43,16.10Z" fill="#0072BD" fill-opacity="0.9" stroke="#0072BD" stroke-width="1.6" stroke-linejoin="miter"/>
<path d="M100.20,11.10L105.40,11.10L102.80,16.10Z" fill="#0072BD" fill-opacity="0.9" stroke="#0072BD" stroke-width="1.6" stroke-linejoin="miter"/>
<path d="M107.57,11.10L112.77,11.10L110.17,16.10Z" fill="#0072BD" fill-opacity="0.9" stroke="#0072BD" stroke-width="1.6" stroke-linejoin="miter"/>
<path d="M114.93,11.10L120.13,11.10L117.53,16.10Z" fill="#0072BD" fill-opacity="0.9" stroke="#0072BD" stroke-width="1.6" stroke-linejoin="miter"/>
<path d="M122.30,11.10L127.50,11.10L124.90,16.10Z" fill="#0072BD" fill-opacity="0.9" stroke="#0072BD" stroke-width="1.6" stroke-linejoin="miter"/>
<path d="M129.67,11.10L134.87,11.10L132.27,16.10Z" fill="#0072BD" fill-opacity="0.9" stroke="#0072BD" stroke-width="1.6" stroke-linejoin="miter"/>
<path d="M137.03,11.10L142.23,11.10L139.63,16.10Z" fill="#0072BD" fill-opacity="0.9" stroke="#0072BD" stroke-width="1.6" stroke-linejoin="miter"/>
<path d="M144.40,11.10L149.60,11.10L147.00,16.10Z" fill="#0072BD" fill-opacity="0.9" stroke="#0072BD" stroke-width="1.6" stroke-linejoin="miter"/>
<path d="M151.77,11.20L156.97,11.20L154.37,16.20Z" fill="#0072BD" fill-opacity="0.9" stroke="#0072BD" stroke-width="1.6" stroke-linejoin="miter"/>
<path d="M159.13,11.60L164.33,11.60L161.73,16.60Z" fill="#0072BD" fill-opacity="0.9" stroke="#0072BD" stroke-width="1.6" stroke-linejoin="miter"/>
<path d="M166.50,12.90L171.70,12.90L169.10,17.90Z" fill="#0072BD" fill-opacity="0.9" stroke="#0072BD" stroke-width="1.6" stroke-linejoin="miter"/>
<path d="M173.87,17.30L179.07,17.30L176.47,22.30Z" fill="#0072BD" fill-opacity="0.9" stroke="#0072BD" stroke-width="1.6" stroke-linejoin="miter"/>
<path d="M181.23,21.00L186.43,21.00L183.83,26.00Z" fill="#0072BD" fill-opacity="0.9" stroke="#0072BD" stroke-width="1.6" stroke-linejoin="miter"/>
<path d="M188.60,24.70L193.80,24.70L191.20,29.70Z" fill="#0072BD" fill-opacity="0.9" stroke="#0072BD" stroke-width="1.6" stroke-linejoin="miter"/>
<path d="M195.97,29.70L201.17,29.70L198.57,34.70Z" fill="#0072BD" fill-opacity="0.9" stroke="#0072BD" stroke-width="1.6" stroke-linejoin="miter"/>
<path d="M203.33,35.80L208.53,35.80L205.93,40.80Z" fill="#0072BD" fill-opacity="0.9" stroke="#0072BD" stroke-width="1.6" stroke-linejoin="miter"/>
<path d="M210.70,44.10L215.90,44.10L213.30,49.10Z" fill="#0072BD" fill-opacity="0.9" stroke="#0072BD" stroke-width="1.6" stroke-linejoin="miter"/>
<path d="M218.07,52.80L223.27,52.80L220.67,57.80Z" fill="#0072BD" fill-opacity="0.9" stroke="#0072BD" stroke-width="1.6" stroke-linejoin="miter"/>
<path d="M225.43,62.80L230.63,62.80L228.03,67.80Z" fill="#0072BD" fill-opacity="0.9" stroke="#0072BD" stroke-width="1.6" stroke-linejoin="miter"/>
<path d="M232.80,77.30L238.00,77.30L235.40,82.30Z" fill="#0072BD" fill-opacity="0.9" stroke="#0072BD" stroke-width="1.6" stroke-linejoin="miter"/>
<path d="M240.17,91.80L245.37,91.80L242.77,96.80Z" fill="#0072BD" fill-opacity="0.9" stroke="#0072BD" stroke-width="1.6" stroke-linejoin="miter"/>
<path d="M247.53,109.80L252.73,109.80L250.13,114.80Z" fill="#0072BD" fill-opacity="0.9" stroke="#0072BD" stroke-width="1.6" stroke-linejoin="miter"/>
<path d="M254.90,129.05L260.10,129.05L257.50,134.05Z" fill="#0072BD" fill-opacity="0.9" stroke="#0072BD" stroke-width="1.6" stroke-linejoin="miter"/>
</g>
<g font-family="Liberation Serif, serif" font-size="10.2" fill="#000"><text transform="translate(30.9,206.20) scale(1,1.13)" text-anchor="end">0.0</text><text transform="translate(30.9,167.80) scale(1,1.13)" text-anchor="end">0.2</text><text transform="translate(30.9,129.40) scale(1,1.13)" text-anchor="end">0.4</text><text transform="translate(30.9,91.00) scale(1,1.13)" text-anchor="end">0.6</text><text transform="translate(30.9,52.60) scale(1,1.13)" text-anchor="end">0.8</text><text transform="translate(30.9,14.20) scale(1,1.13)" text-anchor="end">1.0</text><text transform="translate(36.50,216.4) scale(1,1.13)" text-anchor="middle">−15</text><text transform="translate(73.33,216.4) scale(1,1.13)" text-anchor="middle">−10</text><text transform="translate(110.17,216.4) scale(1,1.13)" text-anchor="middle">−5</text><text transform="translate(147.00,216.4) scale(1,1.13)" text-anchor="middle">0</text><text transform="translate(183.83,216.4) scale(1,1.13)" text-anchor="middle">5</text><text transform="translate(220.67,216.4) scale(1,1.13)" text-anchor="middle">10</text><text transform="translate(255.90,216.4) scale(1,1.13)" text-anchor="middle">15</text><text x="146.3" y="233.4" text-anchor="middle" font-size="11.1">INR(dB)</text><text transform="translate(11.6,111.8) rotate(-90)" text-anchor="middle" font-size="11.1">Probaility of detection</text><text x="131" y="249.8" text-anchor="middle">(<tspan font-weight="bold">a</tspan>)</text></g>
<line x1="322.3" y1="193.50" x2="541.5" y2="193.50" stroke="#B4B4B4" stroke-width="1" stroke-dasharray="1,2.45"/>
<line x1="322.3" y1="188.50" x2="541.5" y2="188.50" stroke="#B4B4B4" stroke-width="1" stroke-dasharray="1,2.45"/>
<line x1="322.3" y1="184.50" x2="541.5" y2="184.50" stroke="#B4B4B4" stroke-width="1" stroke-dasharray="1,2.45"/>
<line x1="322.3" y1="180.50" x2="541.5" y2="180.50" stroke="#B4B4B4" stroke-width="1" stroke-dasharray="1,2.45"/>
<line x1="322.3" y1="178.50" x2="541.5" y2="178.50" stroke="#B4B4B4" stroke-width="1" stroke-dasharray="1,2.45"/>
<line x1="322.3" y1="176.50" x2="541.5" y2="176.50" stroke="#B4B4B4" stroke-width="1" stroke-dasharray="1,2.45"/>
<line x1="322.3" y1="174.50" x2="541.5" y2="174.50" stroke="#B4B4B4" stroke-width="1" stroke-dasharray="1,2.45"/>
<line x1="322.3" y1="172.50" x2="541.5" y2="172.50" stroke="#B4B4B4" stroke-width="1" stroke-dasharray="1,2.45"/>
<line x1="322.3" y1="161.50" x2="541.5" y2="161.50" stroke="#B4B4B4" stroke-width="1" stroke-dasharray="1,2.45"/>
<line x1="322.3" y1="155.50" x2="541.5" y2="155.50" stroke="#B4B4B4" stroke-width="1" stroke-dasharray="1,2.45"/>
<line x1="322.3" y1="151.50" x2="541.5" y2="151.50" stroke="#B4B4B4" stroke-width="1" stroke-dasharray="1,2.45"/>
<line x1="322.3" y1="148.50" x2="541.5" y2="148.50" stroke="#B4B4B4" stroke-width="1" stroke-dasharray="1,2.45"/>
<line x1="322.3" y1="146.50" x2="541.5" y2="146.50" stroke="#B4B4B4" stroke-width="1" stroke-dasharray="1,2.45"/>
<line x1="322.3" y1="143.50" x2="541.5" y2="143.50" stroke="#B4B4B4" stroke-width="1" stroke-dasharray="1,2.45"/>
<line x1="322.3" y1="142.50" x2="541.5" y2="142.50" stroke="#B4B4B4" stroke-width="1" stroke-dasharray="1,2.45"/>
<line x1="322.3" y1="140.50" x2="541.5" y2="140.50" stroke="#B4B4B4" stroke-width="1" stroke-dasharray="1,2.45"/>
<line x1="322.3" y1="129.50" x2="541.5" y2="129.50" stroke="#B4B4B4" stroke-width="1" stroke-dasharray="1,2.45"/>
<line x1="322.3" y1="123.50" x2="541.5" y2="123.50" stroke="#B4B4B4" stroke-width="1" stroke-dasharray="1,2.45"/>
<line x1="322.3" y1="119.50" x2="541.5" y2="119.50" stroke="#B4B4B4" stroke-width="1" stroke-dasharray="1,2.45"/>
<line x1="322.3" y1="116.50" x2="541.5" y2="116.50" stroke="#B4B4B4" stroke-width="1" stroke-dasharray="1,2.45"/>
<line x1="322.3" y1="113.50" x2="541.5" y2="113.50" stroke="#B4B4B4" stroke-width="1" stroke-dasharray="1,2.45"/>
<line x1="322.3" y1="111.50" x2="541.5" y2="111.50" stroke="#B4B4B4" stroke-width="1" stroke-dasharray="1,2.45"/>
<line x1="322.3" y1="109.50" x2="541.5" y2="109.50" stroke="#B4B4B4" stroke-width="1" stroke-dasharray="1,2.45"/>
<line x1="322.3" y1="108.50" x2="541.5" y2="108.50" stroke="#B4B4B4" stroke-width="1" stroke-dasharray="1,2.45"/>
<line x1="322.3" y1="97.50" x2="541.5" y2="97.50" stroke="#B4B4B4" stroke-width="1" stroke-dasharray="1,2.45"/>
<line x1="322.3" y1="91.50" x2="541.5" y2="91.50" stroke="#B4B4B4" stroke-width="1" stroke-dasharray="1,2.45"/>
<line x1="322.3" y1="87.50" x2="541.5" y2="87.50" stroke="#B4B4B4" stroke-width="1" stroke-dasharray="1,2.45"/>
<line x1="322.3" y1="84.50" x2="541.5" y2="84.50" stroke="#B4B4B4" stroke-width="1" stroke-dasharray="1,2.45"/>
<line x1="322.3" y1="81.50" x2="541.5" y2="81.50" stroke="#B4B4B4" stroke-width="1" stroke-dasharray="1,2.45"/>
<line x1="322.3" y1="79.50" x2="541.5" y2="79.50" stroke="#B4B4B4" stroke-width="1" stroke-dasharray="1,2.45"/>
<line x1="322.3" y1="77.50" x2="541.5" y2="77.50" stroke="#B4B4B4" stroke-width="1" stroke-dasharray="1,2.45"/>
<line x1="322.3" y1="76.50" x2="541.5" y2="76.50" stroke="#B4B4B4" stroke-width="1" stroke-dasharray="1,2.45"/>
<line x1="322.3" y1="64.50" x2="541.5" y2="64.50" stroke="#B4B4B4" stroke-width="1" stroke-dasharray="1,2.45"/>
<line x1="322.3" y1="59.50" x2="541.5" y2="59.50" stroke="#B4B4B4" stroke-width="1" stroke-dasharray="1,2.45"/>
<line x1="322.3" y1="55.50" x2="541.5" y2="55.50" stroke="#B4B4B4" stroke-width="1" stroke-dasharray="1,2.45"/>
<line x1="322.3" y1="52.50" x2="541.5" y2="52.50" stroke="#B4B4B4" stroke-width="1" stroke-dasharray="1,2.45"/>
<line x1="322.3" y1="49.50" x2="541.5" y2="49.50" stroke="#B4B4B4" stroke-width="1" stroke-dasharray="1,2.45"/>
<line x1="322.3" y1="47.50" x2="541.5" y2="47.50" stroke="#B4B4B4" stroke-width="1" stroke-dasharray="1,2.45"/>
<line x1="322.3" y1="45.50" x2="541.5" y2="45.50" stroke="#B4B4B4" stroke-width="1" stroke-dasharray="1,2.45"/>
<line x1="322.3" y1="43.50" x2="541.5" y2="43.50" stroke="#B4B4B4" stroke-width="1" stroke-dasharray="1,2.45"/>
<line x1="322.3" y1="32.50" x2="541.5" y2="32.50" stroke="#B4B4B4" stroke-width="1" stroke-dasharray="1,2.45"/>
<line x1="322.3" y1="27.50" x2="541.5" y2="27.50" stroke="#B4B4B4" stroke-width="1" stroke-dasharray="1,2.45"/>
<line x1="322.3" y1="23.50" x2="541.5" y2="23.50" stroke="#B4B4B4" stroke-width="1" stroke-dasharray="1,2.45"/>
<line x1="322.3" y1="19.50" x2="541.5" y2="19.50" stroke="#B4B4B4" stroke-width="1" stroke-dasharray="1,2.45"/>
<line x1="322.3" y1="17.50" x2="541.5" y2="17.50" stroke="#B4B4B4" stroke-width="1" stroke-dasharray="1,2.45"/>
<line x1="322.3" y1="15.50" x2="541.5" y2="15.50" stroke="#B4B4B4" stroke-width="1" stroke-dasharray="1,2.45"/>
<line x1="322.3" y1="13.50" x2="541.5" y2="13.50" stroke="#B4B4B4" stroke-width="1" stroke-dasharray="1,2.45"/>
<line x1="358.17" y1="11.5" x2="358.17" y2="203.5" stroke="#D3D3D3" stroke-width="1"/>
<line x1="394.83" y1="11.5" x2="394.83" y2="203.5" stroke="#D3D3D3" stroke-width="1"/>
<line x1="431.50" y1="11.5" x2="431.50" y2="203.5" stroke="#D3D3D3" stroke-width="1"/>
<line x1="468.17" y1="11.5" x2="468.17" y2="203.5" stroke="#D3D3D3" stroke-width="1"/>
<line x1="504.83" y1="11.5" x2="504.83" y2="203.5" stroke="#D3D3D3" stroke-width="1"/>
<line x1="321.5" y1="74.60" x2="541.5" y2="74.60" stroke="#E8E8E8" stroke-width="1"/>
<rect x="321.5" y="11.5" width="220.0" height="192.0" fill="none" stroke="#3A3A3A" stroke-width="1"/>
<line x1="321.50" y1="203.5" x2="321.50" y2="201.3" stroke="#3A3A3A" stroke-width="1"/>
<line x1="321.50" y1="11.5" x2="321.50" y2="13.7" stroke="#3A3A3A" stroke-width="1"/>
<line x1="358.17" y1="203.5" x2="358.17" y2="201.3" stroke="#3A3A3A" stroke-width="1"/>
<line x1="358.17" y1="11.5" x2="358.17" y2="13.7" stroke="#3A3A3A" stroke-width="1"/>
<line x1="394.83" y1="203.5" x2="394.83" y2="201.3" stroke="#3A3A3A" stroke-width="1"/>
<line x1="394.83" y1="11.5" x2="394.83" y2="13.7" stroke="#3A3A3A" stroke-width="1"/>
<line x1="431.50" y1="203.5" x2="431.50" y2="201.3" stroke="#3A3A3A" stroke-width="1"/>
<line x1="431.50" y1="11.5" x2="431.50" y2="13.7" stroke="#3A3A3A" stroke-width="1"/>
<line x1="468.17" y1="203.5" x2="468.17" y2="201.3" stroke="#3A3A3A" stroke-width="1"/>
<line x1="468.17" y1="11.5" x2="468.17" y2="13.7" stroke="#3A3A3A" stroke-width="1"/>
<line x1="504.83" y1="203.5" x2="504.83" y2="201.3" stroke="#3A3A3A" stroke-width="1"/>
<line x1="504.83" y1="11.5" x2="504.83" y2="13.7" stroke="#3A3A3A" stroke-width="1"/>
<line x1="541.50" y1="203.5" x2="541.50" y2="201.3" stroke="#3A3A3A" stroke-width="1"/>
<line x1="541.50" y1="11.5" x2="541.50" y2="13.7" stroke="#3A3A3A" stroke-width="1"/>
<line x1="321.5" y1="203.40" x2="323.7" y2="203.40" stroke="#3A3A3A" stroke-width="1"/>
<line x1="541.5" y1="203.40" x2="539.3" y2="203.40" stroke="#3A3A3A" stroke-width="1"/>
<line x1="321.5" y1="193.71" x2="322.7" y2="193.71" stroke="#3A3A3A" stroke-width="0.8"/>
<line x1="541.5" y1="193.71" x2="540.3" y2="193.71" stroke="#3A3A3A" stroke-width="0.8"/>
<line x1="321.5" y1="188.04" x2="322.7" y2="188.04" stroke="#3A3A3A" stroke-width="0.8"/>
<line x1="541.5" y1="188.04" x2="540.3" y2="188.04" stroke="#3A3A3A" stroke-width="0.8"/>
<line x1="321.5" y1="184.01" x2="322.7" y2="184.01" stroke="#3A3A3A" stroke-width="0.8"/>
<line x1="541.5" y1="184.01" x2="540.3" y2="184.01" stroke="#3A3A3A" stroke-width="0.8"/>
<line x1="321.5" y1="180.89" x2="322.7" y2="180.89" stroke="#3A3A3A" stroke-width="0.8"/>
<line x1="541.5" y1="180.89" x2="540.3" y2="180.89" stroke="#3A3A3A" stroke-width="0.8"/>
<line x1="321.5" y1="178.34" x2="322.7" y2="178.34" stroke="#3A3A3A" stroke-width="0.8"/>
<line x1="541.5" y1="178.34" x2="540.3" y2="178.34" stroke="#3A3A3A" stroke-width="0.8"/>
<line x1="321.5" y1="176.19" x2="322.7" y2="176.19" stroke="#3A3A3A" stroke-width="0.8"/>
<line x1="541.5" y1="176.19" x2="540.3" y2="176.19" stroke="#3A3A3A" stroke-width="0.8"/>
<line x1="321.5" y1="174.32" x2="322.7" y2="174.32" stroke="#3A3A3A" stroke-width="0.8"/>
<line x1="541.5" y1="174.32" x2="540.3" y2="174.32" stroke="#3A3A3A" stroke-width="0.8"/>
<line x1="321.5" y1="172.67" x2="322.7" y2="172.67" stroke="#3A3A3A" stroke-width="0.8"/>
<line x1="541.5" y1="172.67" x2="540.3" y2="172.67" stroke="#3A3A3A" stroke-width="0.8"/>
<line x1="321.5" y1="171.20" x2="323.7" y2="171.20" stroke="#3A3A3A" stroke-width="1"/>
<line x1="541.5" y1="171.20" x2="539.3" y2="171.20" stroke="#3A3A3A" stroke-width="1"/>
<line x1="321.5" y1="161.51" x2="322.7" y2="161.51" stroke="#3A3A3A" stroke-width="0.8"/>
<line x1="541.5" y1="161.51" x2="540.3" y2="161.51" stroke="#3A3A3A" stroke-width="0.8"/>
<line x1="321.5" y1="155.84" x2="322.7" y2="155.84" stroke="#3A3A3A" stroke-width="0.8"/>
<line x1="541.5" y1="155.84" x2="540.3" y2="155.84" stroke="#3A3A3A" stroke-width="0.8"/>
<line x1="321.5" y1="151.81" x2="322.7" y2="151.81" stroke="#3A3A3A" stroke-width="0.8"/>
<line x1="541.5" y1="151.81" x2="540.3" y2="151.81" stroke="#3A3A3A" stroke-width="0.8"/>
<line x1="321.5" y1="148.69" x2="322.7" y2="148.69" stroke="#3A3A3A" stroke-width="0.8"/>
<line x1="541.5" y1="148.69" x2="540.3" y2="148.69" stroke="#3A3A3A" stroke-width="0.8"/>
<line x1="321.5" y1="146.14" x2="322.7" y2="146.14" stroke="#3A3A3A" stroke-width="0.8"/>
<line x1="541.5" y1="146.14" x2="540.3" y2="146.14" stroke="#3A3A3A" stroke-width="0.8"/>
<line x1="321.5" y1="143.99" x2="322.7" y2="143.99" stroke="#3A3A3A" stroke-width="0.8"/>
<line x1="541.5" y1="143.99" x2="540.3" y2="143.99" stroke="#3A3A3A" stroke-width="0.8"/>
<line x1="321.5" y1="142.12" x2="322.7" y2="142.12" stroke="#3A3A3A" stroke-width="0.8"/>
<line x1="541.5" y1="142.12" x2="540.3" y2="142.12" stroke="#3A3A3A" stroke-width="0.8"/>
<line x1="321.5" y1="140.47" x2="322.7" y2="140.47" stroke="#3A3A3A" stroke-width="0.8"/>
<line x1="541.5" y1="140.47" x2="540.3" y2="140.47" stroke="#3A3A3A" stroke-width="0.8"/>
<line x1="321.5" y1="139.00" x2="323.7" y2="139.00" stroke="#3A3A3A" stroke-width="1"/>
<line x1="541.5" y1="139.00" x2="539.3" y2="139.00" stroke="#3A3A3A" stroke-width="1"/>
<line x1="321.5" y1="129.31" x2="322.7" y2="129.31" stroke="#3A3A3A" stroke-width="0.8"/>
<line x1="541.5" y1="129.31" x2="540.3" y2="129.31" stroke="#3A3A3A" stroke-width="0.8"/>
<line x1="321.5" y1="123.64" x2="322.7" y2="123.64" stroke="#3A3A3A" stroke-width="0.8"/>
<line x1="541.5" y1="123.64" x2="540.3" y2="123.64" stroke="#3A3A3A" stroke-width="0.8"/>
<line x1="321.5" y1="119.61" x2="322.7" y2="119.61" stroke="#3A3A3A" stroke-width="0.8"/>
<line x1="541.5" y1="119.61" x2="540.3" y2="119.61" stroke="#3A3A3A" stroke-width="0.8"/>
<line x1="321.5" y1="116.49" x2="322.7" y2="116.49" stroke="#3A3A3A" stroke-width="0.8"/>
<line x1="541.5" y1="116.49" x2="540.3" y2="116.49" stroke="#3A3A3A" stroke-width="0.8"/>
<line x1="321.5" y1="113.94" x2="322.7" y2="113.94" stroke="#3A3A3A" stroke-width="0.8"/>
<line x1="541.5" y1="113.94" x2="540.3" y2="113.94" stroke="#3A3A3A" stroke-width="0.8"/>
<line x1="321.5" y1="111.79" x2="322.7" y2="111.79" stroke="#3A3A3A" stroke-width="0.8"/>
<line x1="541.5" y1="111.79" x2="540.3" y2="111.79" stroke="#3A3A3A" stroke-width="0.8"/>
<line x1="321.5" y1="109.92" x2="322.7" y2="109.92" stroke="#3A3A3A" stroke-width="0.8"/>
<line x1="541.5" y1="109.92" x2="540.3" y2="109.92" stroke="#3A3A3A" stroke-width="0.8"/>
<line x1="321.5" y1="108.27" x2="322.7" y2="108.27" stroke="#3A3A3A" stroke-width="0.8"/>
<line x1="541.5" y1="108.27" x2="540.3" y2="108.27" stroke="#3A3A3A" stroke-width="0.8"/>
<line x1="321.5" y1="106.80" x2="323.7" y2="106.80" stroke="#3A3A3A" stroke-width="1"/>
<line x1="541.5" y1="106.80" x2="539.3" y2="106.80" stroke="#3A3A3A" stroke-width="1"/>
<line x1="321.5" y1="97.11" x2="322.7" y2="97.11" stroke="#3A3A3A" stroke-width="0.8"/>
<line x1="541.5" y1="97.11" x2="540.3" y2="97.11" stroke="#3A3A3A" stroke-width="0.8"/>
<line x1="321.5" y1="91.44" x2="322.7" y2="91.44" stroke="#3A3A3A" stroke-width="0.8"/>
<line x1="541.5" y1="91.44" x2="540.3" y2="91.44" stroke="#3A3A3A" stroke-width="0.8"/>
<line x1="321.5" y1="87.41" x2="322.7" y2="87.41" stroke="#3A3A3A" stroke-width="0.8"/>
<line x1="541.5" y1="87.41" x2="540.3" y2="87.41" stroke="#3A3A3A" stroke-width="0.8"/>
<line x1="321.5" y1="84.29" x2="322.7" y2="84.29" stroke="#3A3A3A" stroke-width="0.8"/>
<line x1="541.5" y1="84.29" x2="540.3" y2="84.29" stroke="#3A3A3A" stroke-width="0.8"/>
<line x1="321.5" y1="81.74" x2="322.7" y2="81.74" stroke="#3A3A3A" stroke-width="0.8"/>
<line x1="541.5" y1="81.74" x2="540.3" y2="81.74" stroke="#3A3A3A" stroke-width="0.8"/>
<line x1="321.5" y1="79.59" x2="322.7" y2="79.59" stroke="#3A3A3A" stroke-width="0.8"/>
<line x1="541.5" y1="79.59" x2="540.3" y2="79.59" stroke="#3A3A3A" stroke-width="0.8"/>
<line x1="321.5" y1="77.72" x2="322.7" y2="77.72" stroke="#3A3A3A" stroke-width="0.8"/>
<line x1="541.5" y1="77.72" x2="540.3" y2="77.72" stroke="#3A3A3A" stroke-width="0.8"/>
<line x1="321.5" y1="76.07" x2="322.7" y2="76.07" stroke="#3A3A3A" stroke-width="0.8"/>
<line x1="541.5" y1="76.07" x2="540.3" y2="76.07" stroke="#3A3A3A" stroke-width="0.8"/>
<line x1="321.5" y1="74.60" x2="323.7" y2="74.60" stroke="#3A3A3A" stroke-width="1"/>
<line x1="541.5" y1="74.60" x2="539.3" y2="74.60" stroke="#3A3A3A" stroke-width="1"/>
<line x1="321.5" y1="64.91" x2="322.7" y2="64.91" stroke="#3A3A3A" stroke-width="0.8"/>
<line x1="541.5" y1="64.91" x2="540.3" y2="64.91" stroke="#3A3A3A" stroke-width="0.8"/>
<line x1="321.5" y1="59.24" x2="322.7" y2="59.24" stroke="#3A3A3A" stroke-width="0.8"/>
<line x1="541.5" y1="59.24" x2="540.3" y2="59.24" stroke="#3A3A3A" stroke-width="0.8"/>
<line x1="321.5" y1="55.21" x2="322.7" y2="55.21" stroke="#3A3A3A" stroke-width="0.8"/>
<line x1="541.5" y1="55.21" x2="540.3" y2="55.21" stroke="#3A3A3A" stroke-width="0.8"/>
<line x1="321.5" y1="52.09" x2="322.7" y2="52.09" stroke="#3A3A3A" stroke-width="0.8"/>
<line x1="541.5" y1="52.09" x2="540.3" y2="52.09" stroke="#3A3A3A" stroke-width="0.8"/>
<line x1="321.5" y1="49.54" x2="322.7" y2="49.54" stroke="#3A3A3A" stroke-width="0.8"/>
<line x1="541.5" y1="49.54" x2="540.3" y2="49.54" stroke="#3A3A3A" stroke-width="0.8"/>
<line x1="321.5" y1="47.39" x2="322.7" y2="47.39" stroke="#3A3A3A" stroke-width="0.8"/>
<line x1="541.5" y1="47.39" x2="540.3" y2="47.39" stroke="#3A3A3A" stroke-width="0.8"/>
<line x1="321.5" y1="45.52" x2="322.7" y2="45.52" stroke="#3A3A3A" stroke-width="0.8"/>
<line x1="541.5" y1="45.52" x2="540.3" y2="45.52" stroke="#3A3A3A" stroke-width="0.8"/>
<line x1="321.5" y1="43.87" x2="322.7" y2="43.87" stroke="#3A3A3A" stroke-width="0.8"/>
<line x1="541.5" y1="43.87" x2="540.3" y2="43.87" stroke="#3A3A3A" stroke-width="0.8"/>
<line x1="321.5" y1="42.40" x2="323.7" y2="42.40" stroke="#3A3A3A" stroke-width="1"/>
<line x1="541.5" y1="42.40" x2="539.3" y2="42.40" stroke="#3A3A3A" stroke-width="1"/>
<line x1="321.5" y1="32.71" x2="322.7" y2="32.71" stroke="#3A3A3A" stroke-width="0.8"/>
<line x1="541.5" y1="32.71" x2="540.3" y2="32.71" stroke="#3A3A3A" stroke-width="0.8"/>
<line x1="321.5" y1="27.04" x2="322.7" y2="27.04" stroke="#3A3A3A" stroke-width="0.8"/>
<line x1="541.5" y1="27.04" x2="540.3" y2="27.04" stroke="#3A3A3A" stroke-width="0.8"/>
<line x1="321.5" y1="23.01" x2="322.7" y2="23.01" stroke="#3A3A3A" stroke-width="0.8"/>
<line x1="541.5" y1="23.01" x2="540.3" y2="23.01" stroke="#3A3A3A" stroke-width="0.8"/>
<line x1="321.5" y1="19.89" x2="322.7" y2="19.89" stroke="#3A3A3A" stroke-width="0.8"/>
<line x1="541.5" y1="19.89" x2="540.3" y2="19.89" stroke="#3A3A3A" stroke-width="0.8"/>
<line x1="321.5" y1="17.34" x2="322.7" y2="17.34" stroke="#3A3A3A" stroke-width="0.8"/>
<line x1="541.5" y1="17.34" x2="540.3" y2="17.34" stroke="#3A3A3A" stroke-width="0.8"/>
<line x1="321.5" y1="15.19" x2="322.7" y2="15.19" stroke="#3A3A3A" stroke-width="0.8"/>
<line x1="541.5" y1="15.19" x2="540.3" y2="15.19" stroke="#3A3A3A" stroke-width="0.8"/>
<line x1="321.5" y1="13.32" x2="322.7" y2="13.32" stroke="#3A3A3A" stroke-width="0.8"/>
<line x1="541.5" y1="13.32" x2="540.3" y2="13.32" stroke="#3A3A3A" stroke-width="0.8"/>
<line x1="321.5" y1="11.67" x2="322.7" y2="11.67" stroke="#3A3A3A" stroke-width="0.8"/>
<line x1="541.5" y1="11.67" x2="540.3" y2="11.67" stroke="#3A3A3A" stroke-width="0.8"/>
<g>
<path d="M321.50,140.00 L328.83,147.50 L336.17,140.50 L343.50,141.75 L350.83,143.00 L358.17,146.10 L365.50,149.25 L372.83,151.10 L380.17,151.80 L387.50,144.60 L394.83,140.50 L402.17,139.80 L409.50,137.50 L416.83,138.30 L424.17,141.20 L431.50,149.50 L438.83,164.00 L446.17,193.50" fill="none" stroke="#0072BD" stroke-width="1.6" stroke-linejoin="round"/>
<circle cx="321.50" cy="140.00" r="2.1" fill="#0072BD"/>
<circle cx="328.83" cy="147.50" r="2.1" fill="#0072BD"/>
<circle cx="336.17" cy="140.50" r="2.1" fill="#0072BD"/>
<circle cx="343.50" cy="141.75" r="2.1" fill="#0072BD"/>
<circle cx="350.83" cy="143.00" r="2.1" fill="#0072BD"/>
<circle cx="358.17" cy="146.10" r="2.1" fill="#0072BD"/>
<circle cx="365.50" cy="149.25" r="2.1" fill="#0072BD"/>
<circle cx="372.83" cy="151.10" r="2.1" fill="#0072BD"/>
<circle cx="380.17" cy="151.80" r="2.1" fill="#0072BD"/>
<circle cx="387.50" cy="144.60" r="2.1" fill="#0072BD"/>
<circle cx="394.83" cy="140.50" r="2.1" fill="#0072BD"/>
<circle cx="402.17" cy="139.80" r="2.1" fill="#0072BD"/>
<circle cx="409.50" cy="137.50" r="2.1" fill="#0072BD"/>
<circle cx="416.83" cy="138.30" r="2.1" fill="#0072BD"/>
<circle cx="424.17" cy="141.20" r="2.1" fill="#0072BD"/>
<circle cx="431.50" cy="149.50" r="2.1" fill="#0072BD"/>
<circle cx="438.83" cy="164.00" r="2.1" fill="#0072BD"/>
<circle cx="446.17" cy="193.50" r="2.1" fill="#0072BD"/>
<path d="M321.50,141.40 L328.83,140.50 L336.17,143.25 L343.50,144.50 L350.83,145.70 L358.17,148.70 L365.50,152.80 L372.83,156.75 L380.17,159.75 L387.50,175.00 L394.83,170.00 L402.17,193.50 L409.50,193.50" fill="none" stroke="#D95319" stroke-width="1.6" stroke-linejoin="round"/>
<path d="M319.80,138.80L324.80,141.40L319.80,144.00Z" fill="#D95319" fill-opacity="0.9" stroke="#D95319" stroke-width="1.6" stroke-linejoin="miter"/>
<path d="M327.13,137.90L332.13,140.50L327.13,143.10Z" fill="#D95319" fill-opacity="0.9" stroke="#D95319" stroke-width="1.6" stroke-linejoin="miter"/>
<path d="M334.47,140.65L339.47,143.25L334.47,145.85Z" fill="#D95319" fill-opacity="0.9" stroke="#D95319" stroke-width="1.6" stroke-linejoin="miter"/>
<path d="M341.80,141.90L346.80,144.50L341.80,147.10Z" fill="#D95319" fill-opacity="0.9" stroke="#D95319" stroke-width="1.6" stroke-linejoin="miter"/>
<path d="M349.13,143.10L354.13,145.70L349.13,148.30Z" fill="#D95319" fill-opacity="0.9" stroke="#D95319" stroke-width="1.6" stroke-linejoin="miter"/>
<path d="M356.47,146.10L361.47,148.70L356.47,151.30Z" fill="#D95319" fill-opacity="0.9" stroke="#D95319" stroke-width="1.6" stroke-linejoin="miter"/>
<path d="M363.80,150.20L368.80,152.80L363.80,155.40Z" fill="#D95319" fill-opacity="0.9" stroke="#D95319" stroke-width="1.6" stroke-linejoin="miter"/>
<path d="M371.13,154.15L376.13,156.75L371.13,159.35Z" fill="#D95319" fill-opacity="0.9" stroke="#D95319" stroke-width="1.6" stroke-linejoin="miter"/>
<path d="M378.47,157.15L383.47,159.75L378.47,162.35Z" fill="#D95319" fill-opacity="0.9" stroke="#D95319" stroke-width="1.6" stroke-linejoin="miter"/>
<path d="M385.80,172.40L390.80,175.00L385.80,177.60Z" fill="#D95319" fill-opacity="0.9" stroke="#D95319" stroke-width="1.6" stroke-linejoin="miter"/>
<path d="M393.13,167.40L398.13,170.00L393.13,172.60Z" fill="#D95319" fill-opacity="0.9" stroke="#D95319" stroke-width="1.6" stroke-linejoin="miter"/>
<path d="M400.47,190.90L405.47,193.50L400.47,196.10Z" fill="#D95319" fill-opacity="0.9" stroke="#D95319" stroke-width="1.6" stroke-linejoin="miter"/>
<path d="M407.80,190.90L412.80,193.50L407.80,196.10Z" fill="#D95319" fill-opacity="0.9" stroke="#D95319" stroke-width="1.6" stroke-linejoin="miter"/>
<path d="M321.50,150.00 L328.83,155.00 L336.17,160.00 L343.50,166.00 L350.83,172.00 L358.17,161.50 L365.50,176.00 L372.83,192.70" fill="none" stroke="#EDB120" stroke-width="1.6" stroke-linejoin="round" stroke-dasharray="8.5,5" stroke-dashoffset="4.5"/>
<path d="M321.50,147.00 L328.83,152.00 L336.17,160.00 L343.50,164.40 L350.83,171.50" fill="none" stroke="#7E2F8E" stroke-width="1.6" stroke-linejoin="round"/>
<circle cx="321.50" cy="147.00" r="2.3" fill="#7E2F8E" fill-opacity="0.35" stroke="#7E2F8E" stroke-width="1.36"/>
<circle cx="328.83" cy="152.00" r="2.3" fill="#7E2F8E" fill-opacity="0.35" stroke="#7E2F8E" stroke-width="1.36"/>
<circle cx="336.17" cy="160.00" r="2.3" fill="#7E2F8E" fill-opacity="0.35" stroke="#7E2F8E" stroke-width="1.36"/>
<circle cx="343.50" cy="164.40" r="2.3" fill="#7E2F8E" fill-opacity="0.35" stroke="#7E2F8E" stroke-width="1.36"/>
<circle cx="350.83" cy="171.50" r="2.3" fill="#7E2F8E" fill-opacity="0.35" stroke="#7E2F8E" stroke-width="1.36"/>
<path d="M321.50,138.00 L328.83,137.50 L336.17,138.30 L343.50,139.25 L350.83,138.00 L358.17,138.60 L365.50,140.50 L372.83,139.90 L380.17,137.40 L387.50,137.40 L394.83,135.50 L402.17,136.75 L409.50,138.00 L416.83,136.75 L424.17,134.75 L431.50,133.50 L438.83,130.80 L446.17,127.00 L453.50,126.50 L460.83,124.80 L468.17,124.50 L475.50,119.00 L482.83,116.30 L490.17,112.75 L497.50,109.00 L504.83,106.00 L512.17,102.25 L519.50,98.50 L526.83,96.50 L534.17,94.75 L541.50,93.00" fill="none" stroke="#77AC30" stroke-width="1.6" stroke-linejoin="round"/>
<path d="M319.80,136.30L323.20,139.70M319.80,139.70L323.20,136.30" stroke="#77AC30" stroke-width="1.28"/>
<path d="M327.13,135.80L330.53,139.20M327.13,139.20L330.53,135.80" stroke="#77AC30" stroke-width="1.28"/>
<path d="M334.47,136.60L337.87,140.00M334.47,140.00L337.87,136.60" stroke="#77AC30" stroke-width="1.28"/>
<path d="M341.80,137.55L345.20,140.95M341.80,140.95L345.20,137.55" stroke="#77AC30" stroke-width="1.28"/>
<path d="M349.13,136.30L352.53,139.70M349.13,139.70L352.53,136.30" stroke="#77AC30" stroke-width="1.28"/>
<path d="M356.47,136.90L359.87,140.30M356.47,140.30L359.87,136.90" stroke="#77AC30" stroke-width="1.28"/>
<path d="M363.80,138.80L367.20,142.20M363.80,142.20L367.20,138.80" stroke="#77AC30" stroke-width="1.28"/>
<path d="M371.13,138.20L374.53,141.60M371.13,141.60L374.53,138.20" stroke="#77AC30" stroke-width="1.28"/>
<path d="M378.47,135.70L381.87,139.10M378.47,139.10L381.87,135.70" stroke="#77AC30" stroke-width="1.28"/>
<path d="M385.80,135.70L389.20,139.10M385.80,139.10L389.20,135.70" stroke="#77AC30" stroke-width="1.28"/>
<path d="M393.13,133.80L396.53,137.20M393.13,137.20L396.53,133.80" stroke="#77AC30" stroke-width="1.28"/>
<path d="M400.47,135.05L403.87,138.45M400.47,138.45L403.87,135.05" stroke="#77AC30" stroke-width="1.28"/>
<path d="M407.80,136.30L411.20,139.70M407.80,139.70L411.20,136.30" stroke="#77AC30" stroke-width="1.28"/>
<path d="M415.13,135.05L418.53,138.45M415.13,138.45L418.53,135.05" stroke="#77AC30" stroke-width="1.28"/>
<path d="M422.47,133.05L425.87,136.45M422.47,136.45L425.87,133.05" stroke="#77AC30" stroke-width="1.28"/>
<path d="M429.80,131.80L433.20,135.20M429.80,135.20L433.20,131.80" stroke="#77AC30" stroke-width="1.28"/>
<path d="M437.13,129.10L440.53,132.50M437.13,132.50L440.53,129.10" stroke="#77AC30" stroke-width="1.28"/>
<path d="M444.47,125.30L447.87,128.70M444.47,128.70L447.87,125.30" stroke="#77AC30" stroke-width="1.28"/>
<path d="M451.80,124.80L455.20,128.20M451.80,128.20L455.20,124.80" stroke="#77AC30" stroke-width="1.28"/>
<path d="M459.13,123.10L462.53,126.50M459.13,126.50L462.53,123.10" stroke="#77AC30" stroke-width="1.28"/>
<path d="M466.47,122.80L469.87,126.20M466.47,126.20L469.87,122.80" stroke="#77AC30" stroke-width="1.28"/>
<path d="M473.80,117.30L477.20,120.70M473.80,120.70L477.20,117.30" stroke="#77AC30" stroke-width="1.28"/>
<path d="M481.13,114.60L484.53,118.00M481.13,118.00L484.53,114.60" stroke="#77AC30" stroke-width="1.28"/>
<path d="M488.47,111.05L491.87,114.45M488.47,114.45L491.87,111.05" stroke="#77AC30" stroke-width="1.28"/>
<path d="M495.80,107.30L499.20,110.70M495.80,110.70L499.20,107.30" stroke="#77AC30" stroke-width="1.28"/>
<path d="M503.13,104.30L506.53,107.70M503.13,107.70L506.53,104.30" stroke="#77AC30" stroke-width="1.28"/>
<path d="M510.47,100.55L513.87,103.95M510.47,103.95L513.87,100.55" stroke="#77AC30" stroke-width="1.28"/>
<path d="M517.80,96.80L521.20,100.20M517.80,100.20L521.20,96.80" stroke="#77AC30" stroke-width="1.28"/>
<path d="M525.13,94.80L528.53,98.20M525.13,98.20L528.53,94.80" stroke="#77AC30" stroke-width="1.28"/>
<path d="M532.47,93.05L535.87,96.45M532.47,96.45L535.87,93.05" stroke="#77AC30" stroke-width="1.28"/>
<path d="M539.80,91.30L543.20,94.70M539.80,94.70L543.20,91.30" stroke="#77AC30" stroke-width="1.28"/>
<path d="M321.50,148.00 L328.83,149.00 L336.17,151.00 L343.50,149.90 L350.83,150.50 L358.17,152.40 L365.50,156.75 L372.83,158.30 L380.17,158.50 L387.50,163.50 L394.83,165.50 L402.17,168.50 L409.50,171.00 L416.83,169.80 L424.17,173.50 L431.50,177.50 L438.83,183.50 L446.17,178.00 L453.50,178.00 L460.83,178.00 L468.17,178.00 L475.50,171.25 L482.83,193.00 L490.17,183.75 L497.50,178.00" fill="none" stroke="#4DBEEE" stroke-width="1.6" stroke-linejoin="round"/>
<rect x="319.95" y="146.45" width="3.10" height="3.10" fill="none" stroke="#4DBEEE" stroke-width="1.9"/>
<rect x="327.28" y="147.45" width="3.10" height="3.10" fill="none" stroke="#4DBEEE" stroke-width="1.9"/>
<rect x="334.62" y="149.45" width="3.10" height="3.10" fill="none" stroke="#4DBEEE" stroke-width="1.9"/>
<rect x="341.95" y="148.35" width="3.10" height="3.10" fill="none" stroke="#4DBEEE" stroke-width="1.9"/>
<rect x="349.28" y="148.95" width="3.10" height="3.10" fill="none" stroke="#4DBEEE" stroke-width="1.9"/>
<rect x="356.62" y="150.85" width="3.10" height="3.10" fill="none" stroke="#4DBEEE" stroke-width="1.9"/>
<rect x="363.95" y="155.20" width="3.10" height="3.10" fill="none" stroke="#4DBEEE" stroke-width="1.9"/>
<rect x="371.28" y="156.75" width="3.10" height="3.10" fill="none" stroke="#4DBEEE" stroke-width="1.9"/>
<rect x="378.62" y="156.95" width="3.10" height="3.10" fill="none" stroke="#4DBEEE" stroke-width="1.9"/>
<rect x="385.95" y="161.95" width="3.10" height="3.10" fill="none" stroke="#4DBEEE" stroke-width="1.9"/>
<rect x="393.28" y="163.95" width="3.10" height="3.10" fill="none" stroke="#4DBEEE" stroke-width="1.9"/>
<rect x="400.62" y="166.95" width="3.10" height="3.10" fill="none" stroke="#4DBEEE" stroke-width="1.9"/>
<rect x="407.95" y="169.45" width="3.10" height="3.10" fill="none" stroke="#4DBEEE" stroke-width="1.9"/>
<rect x="415.28" y="168.25" width="3.10" height="3.10" fill="none" stroke="#4DBEEE" stroke-width="1.9"/>
<rect x="422.62" y="171.95" width="3.10" height="3.10" fill="none" stroke="#4DBEEE" stroke-width="1.9"/>
<rect x="429.95" y="175.95" width="3.10" height="3.10" fill="none" stroke="#4DBEEE" stroke-width="1.9"/>
<rect x="437.28" y="181.95" width="3.10" height="3.10" fill="none" stroke="#4DBEEE" stroke-width="1.9"/>
<rect x="444.62" y="176.45" width="3.10" height="3.10" fill="none" stroke="#4DBEEE" stroke-width="1.9"/>
<rect x="451.95" y="176.45" width="3.10" height="3.10" fill="none" stroke="#4DBEEE" stroke-width="1.9"/>
<rect x="459.28" y="176.45" width="3.10" height="3.10" fill="none" stroke="#4DBEEE" stroke-width="1.9"/>
<rect x="466.62" y="176.45" width="3.10" height="3.10" fill="none" stroke="#4DBEEE" stroke-width="1.9"/>
<rect x="473.95" y="169.70" width="3.10" height="3.10" fill="none" stroke="#4DBEEE" stroke-width="1.9"/>
<rect x="481.28" y="191.45" width="3.10" height="3.10" fill="none" stroke="#4DBEEE" stroke-width="1.9"/>
<rect x="488.62" y="182.20" width="3.10" height="3.10" fill="none" stroke="#4DBEEE" stroke-width="1.9"/>
<rect x="495.95" y="176.45" width="3.10" height="3.10" fill="none" stroke="#4DBEEE" stroke-width="1.9"/>
<rect x="510.62" y="182.20" width="3.10" height="3.10" fill="none" stroke="#4DBEEE" stroke-width="1.9"/>
<path d="M321.50,148.00 L328.83,157.00 L336.17,162.50 L343.50,167.00 L350.83,178.30 L358.17,168.40 L365.50,183.80 L372.83,175.50 L380.17,170.00 L387.50,166.80 L394.83,153.80 L402.17,149.50 L409.50,142.50 L416.83,134.50 L424.17,130.00 L431.50,125.20 L438.83,124.40 L446.17,120.20 L453.50,117.60 L460.83,116.40 L468.17,116.20 L475.50,111.50 L482.83,108.30 L490.17,105.50 L497.50,101.75 L504.83,98.50 L512.17,94.75 L519.50,91.00 L526.83,88.50 L534.17,86.75 L541.50,84.75" fill="none" stroke="#A61B2B" stroke-width="1.6" stroke-linejoin="round"/>
<path d="M321.50,145.10L323.90,148.00L321.50,150.90L319.10,148.00Z" fill="#A61B2B" fill-opacity="0.75" stroke="#A61B2B" stroke-width="1.6"/>
<path d="M328.83,154.10L331.23,157.00L328.83,159.90L326.43,157.00Z" fill="#A61B2B" fill-opacity="0.75" stroke="#A61B2B" stroke-width="1.6"/>
<path d="M336.17,159.60L338.57,162.50L336.17,165.40L333.77,162.50Z" fill="#A61B2B" fill-opacity="0.75" stroke="#A61B2B" stroke-width="1.6"/>
<path d="M343.50,164.10L345.90,167.00L343.50,169.90L341.10,167.00Z" fill="#A61B2B" fill-opacity="0.75" stroke="#A61B2B" stroke-width="1.6"/>
<path d="M350.83,175.40L353.23,178.30L350.83,181.20L348.43,178.30Z" fill="#A61B2B" fill-opacity="0.75" stroke="#A61B2B" stroke-width="1.6"/>
<path d="M358.17,165.50L360.57,168.40L358.17,171.30L355.77,168.40Z" fill="#A61B2B" fill-opacity="0.75" stroke="#A61B2B" stroke-width="1.6"/>
<path d="M365.50,180.90L367.90,183.80L365.50,186.70L363.10,183.80Z" fill="#A61B2B" fill-opacity="0.75" stroke="#A61B2B" stroke-width="1.6"/>
<path d="M372.83,172.60L375.23,175.50L372.83,178.40L370.43,175.50Z" fill="#A61B2B" fill-opacity="0.75" stroke="#A61B2B" stroke-width="1.6"/>
<path d="M380.17,167.10L382.57,170.00L380.17,172.90L377.77,170.00Z" fill="#A61B2B" fill-opacity="0.75" stroke="#A61B2B" stroke-width="1.6"/>
<path d="M387.50,163.90L389.90,166.80L387.50,169.70L385.10,166.80Z" fill="#A61B2B" fill-opacity="0.75" stroke="#A61B2B" stroke-width="1.6"/>
<path d="M394.83,150.90L397.23,153.80L394.83,156.70L392.43,153.80Z" fill="#A61B2B" fill-opacity="0.75" stroke="#A61B2B" stroke-width="1.6"/>
<path d="M402.17,146.60L404.57,149.50L402.17,152.40L399.77,149.50Z" fill="#A61B2B" fill-opacity="0.75" stroke="#A61B2B" stroke-width="1.6"/>
<path d="M409.50,139.60L411.90,142.50L409.50,145.40L407.10,142.50Z" fill="#A61B2B" fill-opacity="0.75" stroke="#A61B2B" stroke-width="1.6"/>
<path d="M416.83,131.60L419.23,134.50L416.83,137.40L414.43,134.50Z" fill="#A61B2B" fill-opacity="0.75" stroke="#A61B2B" stroke-width="1.6"/>
<path d="M424.17,127.10L426.57,130.00L424.17,132.90L421.77,130.00Z" fill="#A61B2B" fill-opacity="0.75" stroke="#A61B2B" stroke-width="1.6"/>
<path d="M431.50,122.30L433.90,125.20L431.50,128.10L429.10,125.20Z" fill="#A61B2B" fill-opacity="0.75" stroke="#A61B2B" stroke-width="1.6"/>
<path d="M438.83,121.50L441.23,124.40L438.83,127.30L436.43,124.40Z" fill="#A61B2B" fill-opacity="0.75" stroke="#A61B2B" stroke-width="1.6"/>
<path d="M446.17,117.30L448.57,120.20L446.17,123.10L443.77,120.20Z" fill="#A61B2B" fill-opacity="0.75" stroke="#A61B2B" stroke-width="1.6"/>
<path d="M453.50,114.70L455.90,117.60L453.50,120.50L451.10,117.60Z" fill="#A61B2B" fill-opacity="0.75" stroke="#A61B2B" stroke-width="1.6"/>
<path d="M460.83,113.50L463.23,116.40L460.83,119.30L458.43,116.40Z" fill="#A61B2B" fill-opacity="0.75" stroke="#A61B2B" stroke-width="1.6"/>
<path d="M468.17,113.30L470.57,116.20L468.17,119.10L465.77,116.20Z" fill="#A61B2B" fill-opacity="0.75" stroke="#A61B2B" stroke-width="1.6"/>
<path d="M475.50,108.60L477.90,111.50L475.50,114.40L473.10,111.50Z" fill="#A61B2B" fill-opacity="0.75" stroke="#A61B2B" stroke-width="1.6"/>
<path d="M482.83,105.40L485.23,108.30L482.83,111.20L480.43,108.30Z" fill="#A61B2B" fill-opacity="0.75" stroke="#A61B2B" stroke-width="1.6"/>
<path d="M490.17,102.60L492.57,105.50L490.17,108.40L487.77,105.50Z" fill="#A61B2B" fill-opacity="0.75" stroke="#A61B2B" stroke-width="1.6"/>
<path d="M497.50,98.85L499.90,101.75L497.50,104.65L495.10,101.75Z" fill="#A61B2B" fill-opacity="0.75" stroke="#A61B2B" stroke-width="1.6"/>
<path d="M504.83,95.60L507.23,98.50L504.83,101.40L502.43,98.50Z" fill="#A61B2B" fill-opacity="0.75" stroke="#A61B2B" stroke-width="1.6"/>
<path d="M512.17,91.85L514.57,94.75L512.17,97.65L509.77,94.75Z" fill="#A61B2B" fill-opacity="0.75" stroke="#A61B2B" stroke-width="1.6"/>
<path d="M519.50,88.10L521.90,91.00L519.50,93.90L517.10,91.00Z" fill="#A61B2B" fill-opacity="0.75" stroke="#A61B2B" stroke-width="1.6"/>
<path d="M526.83,85.60L529.23,88.50L526.83,91.40L524.43,88.50Z" fill="#A61B2B" fill-opacity="0.75" stroke="#A61B2B" stroke-width="1.6"/>
<path d="M534.17,83.85L536.57,86.75L534.17,89.65L531.77,86.75Z" fill="#A61B2B" fill-opacity="0.75" stroke="#A61B2B" stroke-width="1.6"/>
<path d="M541.50,81.85L543.90,84.75L541.50,87.65L539.10,84.75Z" fill="#A61B2B" fill-opacity="0.75" stroke="#A61B2B" stroke-width="1.6"/>
<path d="M321.50,152.50 L328.83,156.50 L336.17,159.00 L343.50,159.80 L350.83,166.60 L358.17,160.50 L365.50,167.50 L372.83,174.00 L380.17,161.50 L387.50,171.00 L394.83,164.40 L402.17,179.00 L409.50,179.00 L416.83,156.50 L424.17,157.00 L431.50,162.50 L438.83,164.50 L446.17,156.00 L453.50,155.00 L460.83,153.50 L468.17,149.25 L475.50,143.25 L482.83,140.00 L490.17,135.00 L497.50,135.00 L504.83,133.25 L512.17,130.00 L519.50,130.00 L526.83,132.00 L534.17,130.75 L541.50,135.75" fill="none" stroke="#0072BD" stroke-width="1.6" stroke-linejoin="round"/>
<path d="M318.90,150.80L324.10,150.80L321.50,155.80Z" fill="#0072BD" fill-opacity="0.9" stroke="#0072BD" stroke-width="1.6" stroke-linejoin="miter"/>
<path d="M326.23,154.80L331.43,154.80L328.83,159.80Z" fill="#0072BD" fill-opacity="0.9" stroke="#0072BD" stroke-width="1.6" stroke-linejoin="miter"/>
<path d="M333.57,157.30L338.77,157.30L336.17,162.30Z" fill="#0072BD" fill-opacity="0.9" stroke="#0072BD" stroke-width="1.6" stroke-linejoin="miter"/>
<path d="M340.90,158.10L346.10,158.10L343.50,163.10Z" fill="#0072BD" fill-opacity="0.9" stroke="#0072BD" stroke-width="1.6" stroke-linejoin="miter"/>
<path d="M348.23,164.90L353.43,164.90L350.83,169.90Z" fill="#0072BD" fill-opacity="0.9" stroke="#0072BD" stroke-width="1.6" stroke-linejoin="miter"/>
<path d="M355.57,158.80L360.77,158.80L358.17,163.80Z" fill="#0072BD" fill-opacity="0.9" stroke="#0072BD" stroke-width="1.6" stroke-linejoin="miter"/>
<path d="M362.90,165.80L368.10,165.80L365.50,170.80Z" fill="#0072BD" fill-opacity="0.9" stroke="#0072BD" stroke-width="1.6" stroke-linejoin="miter"/>
<path d="M370.23,172.30L375.43,172.30L372.83,177.30Z" fill="#0072BD" fill-opacity="0.9" stroke="#0072BD" stroke-width="1.6" stroke-linejoin="miter"/>
<path d="M377.57,159.80L382.77,159.80L380.17,164.80Z" fill="#0072BD" fill-opacity="0.9" stroke="#0072BD" stroke-width="1.6" stroke-linejoin="miter"/>
<path d="M384.90,169.30L390.10,169.30L387.50,174.30Z" fill="#0072BD" fill-opacity="0.9" stroke="#0072BD" stroke-width="1.6" stroke-linejoin="miter"/>
<path d="M392.23,162.70L397.43,162.70L394.83,167.70Z" fill="#0072BD" fill-opacity="0.9" stroke="#0072BD" stroke-width="1.6" stroke-linejoin="miter"/>
<path d="M399.57,177.30L404.77,177.30L402.17,182.30Z" fill="#0072BD" fill-opacity="0.9" stroke="#0072BD" stroke-width="1.6" stroke-linejoin="miter"/>
<path d="M406.90,177.30L412.10,177.30L409.50,182.30Z" fill="#0072BD" fill-opacity="0.9" stroke="#0072BD" stroke-width="1.6" stroke-linejoin="miter"/>
<path d="M414.23,154.80L419.43,154.80L416.83,159.80Z" fill="#0072BD" fill-opacity="0.9" stroke="#0072BD" stroke-width="1.6" stroke-linejoin="miter"/>
<path d="M421.57,155.30L426.77,155.30L424.17,160.30Z" fill="#0072BD" fill-opacity="0.9" stroke="#0072BD" stroke-width="1.6" stroke-linejoin="miter"/>
<path d="M428.90,160.80L434.10,160.80L431.50,165.80Z" fill="#0072BD" fill-opacity="0.9" stroke="#0072BD" stroke-width="1.6" stroke-linejoin="miter"/>
<path d="M436.23,162.80L441.43,162.80L438.83,167.80Z" fill="#0072BD" fill-opacity="0.9" stroke="#0072BD" stroke-width="1.6" stroke-linejoin="miter"/>
<path d="M443.57,154.30L448.77,154.30L446.17,159.30Z" fill="#0072BD" fill-opacity="0.9" stroke="#0072BD" stroke-width="1.6" stroke-linejoin="miter"/>
<path d="M450.90,153.30L456.10,153.30L453.50,158.30Z" fill="#0072BD" fill-opacity="0.9" stroke="#0072BD" stroke-width="1.6" stroke-linejoin="miter"/>
<path d="M458.23,151.80L463.43,151.80L460.83,156.80Z" fill="#0072BD" fill-opacity="0.9" stroke="#0072BD" stroke-width="1.6" stroke-linejoin="miter"/>
<path d="M465.57,147.55L470.77,147.55L468.17,152.55Z" fill="#0072BD" fill-opacity="0.9" stroke="#0072BD" stroke-width="1.6" stroke-linejoin="miter"/>
<path d="M472.90,141.55L478.10,141.55L475.50,146.55Z" fill="#0072BD" fill-opacity="0.9" stroke="#0072BD" stroke-width="1.6" stroke-linejoin="miter"/>
<path d="M480.23,138.30L485.43,138.30L482.83,143.30Z" fill="#0072BD" fill-opacity="0.9" stroke="#0072BD" stroke-width="1.6" stroke-linejoin="miter"/>
<path d="M487.57,133.30L492.77,133.30L490.17,138.30Z" fill="#0072BD" fill-opacity="0.9" stroke="#0072BD" stroke-width="1.6" stroke-linejoin="miter"/>
<path d="M494.90,133.30L500.10,133.30L497.50,138.30Z" fill="#0072BD" fill-opacity="0.9" stroke="#0072BD" stroke-width="1.6" stroke-linejoin="miter"/>
<path d="M502.23,131.55L507.43,131.55L504.83,136.55Z" fill="#0072BD" fill-opacity="0.9" stroke="#0072BD" stroke-width="1.6" stroke-linejoin="miter"/>
<path d="M509.57,128.30L514.77,128.30L512.17,133.30Z" fill="#0072BD" fill-opacity="0.9" stroke="#0072BD" stroke-width="1.6" stroke-linejoin="miter"/>
<path d="M516.90,128.30L522.10,128.30L519.50,133.30Z" fill="#0072BD" fill-opacity="0.9" stroke="#0072BD" stroke-width="1.6" stroke-linejoin="miter"/>
<path d="M524.23,130.30L529.43,130.30L526.83,135.30Z" fill="#0072BD" fill-opacity="0.9" stroke="#0072BD" stroke-width="1.6" stroke-linejoin="miter"/>
<path d="M531.57,129.05L536.77,129.05L534.17,134.05Z" fill="#0072BD" fill-opacity="0.9" stroke="#0072BD" stroke-width="1.6" stroke-linejoin="miter"/>
<path d="M538.90,134.05L544.10,134.05L541.50,139.05Z" fill="#0072BD" fill-opacity="0.9" stroke="#0072BD" stroke-width="1.6" stroke-linejoin="miter"/>
</g>
<rect x="398" y="20" width="17" height="101" fill="#fff"/>
<rect x="329.5" y="20.5" width="69" height="100.5" fill="#fff" stroke="#3A3A3A" stroke-width="0.8"/>
<line x1="332.8" y1="27.70" x2="349.8" y2="27.70" stroke="#0072BD" stroke-width="1.6"/>
<circle cx="341.30" cy="27.70" r="2.1" fill="#0072BD"/>
<text transform="translate(352.6,29.90) scale(1,1.12)" font-family="Liberation Serif, serif" font-size="8.7" fill="#000">SIDOND</text>
<line x1="332.8" y1="40.00" x2="349.8" y2="40.00" stroke="#D95319" stroke-width="1.6"/>
<path d="M339.60,37.40L344.60,40.00L339.60,42.60Z" fill="#D95319" fill-opacity="0.9" stroke="#D95319" stroke-width="1.6" stroke-linejoin="miter"/>
<text transform="translate(352.6,42.20) scale(1,1.12)" font-family="Liberation Serif, serif" font-size="8.7" fill="#000">SISOND</text>
<line x1="332.8" y1="52.30" x2="349.8" y2="52.30" stroke="#EDB120" stroke-width="1.6" stroke-dasharray="8.5,5"/>
<text transform="translate(352.6,54.50) scale(1,1.12)" font-family="Liberation Serif, serif" font-size="8.7" fill="#000">CA-CFAR</text>
<line x1="332.8" y1="64.60" x2="349.8" y2="64.60" stroke="#7E2F8E" stroke-width="1.6"/>
<circle cx="341.30" cy="64.60" r="2.3" fill="#7E2F8E" fill-opacity="0.35" stroke="#7E2F8E" stroke-width="1.36"/>
<text transform="translate(352.6,66.80) scale(1,1.12)" font-family="Liberation Serif, serif" font-size="8.7" fill="#000">GO-CFAR</text>
<line x1="332.8" y1="76.90" x2="349.8" y2="76.90" stroke="#77AC30" stroke-width="1.6"/>
<path d="M339.60,75.20L343.00,78.60M339.60,78.60L343.00,75.20" stroke="#77AC30" stroke-width="1.28"/>
<text transform="translate(352.6,79.10) scale(1,1.12)" font-family="Liberation Serif, serif" font-size="8.7" fill="#000">SO-CFAR</text>
<line x1="332.8" y1="89.20" x2="349.8" y2="89.20" stroke="#4DBEEE" stroke-width="1.6"/>
<rect x="339.75" y="87.65" width="3.10" height="3.10" fill="none" stroke="#4DBEEE" stroke-width="1.9"/>
<text transform="translate(352.6,91.40) scale(1,1.12)" font-family="Liberation Serif, serif" font-size="8.7" fill="#000">OS-CFAR</text>
<line x1="332.8" y1="101.50" x2="349.8" y2="101.50" stroke="#A61B2B" stroke-width="1.6"/>
<path d="M341.30,98.60L343.70,101.50L341.30,104.40L338.90,101.50Z" fill="#A61B2B" fill-opacity="0.75" stroke="#A61B2B" stroke-width="1.6"/>
<text transform="translate(352.6,103.70) scale(1,1.12)" font-family="Liberation Serif, serif" font-size="8.7" fill="#000">VI-CFAR</text>
<line x1="332.8" y1="113.80" x2="349.8" y2="113.80" stroke="#0072BD" stroke-width="1.6"/>
<path d="M338.70,112.10L343.90,112.10L341.30,117.10Z" fill="#0072BD" fill-opacity="0.9" stroke="#0072BD" stroke-width="1.6" stroke-linejoin="miter"/>
<text transform="translate(352.6,116.00) scale(1,1.12)" font-family="Liberation Serif, serif" font-size="8.7" fill="#000">BVI-CFAR</text>
<g font-family="Liberation Serif, serif" font-size="10.2" fill="#000"><text transform="translate(306.2,208.30) scale(1,1.15)" text-anchor="end">10</text><text transform="translate(315.6,204.80) scale(1,1.08)" text-anchor="end" font-size="6.7">−6</text><text transform="translate(306.2,143.90) scale(1,1.15)" text-anchor="end">10</text><text transform="translate(315.6,140.40) scale(1,1.08)" text-anchor="end" font-size="6.7">−4</text><text transform="translate(306.2,79.50) scale(1,1.15)" text-anchor="end">10</text><text transform="translate(315.6,76.00) scale(1,1.08)" text-anchor="end" font-size="6.7">−2</text><text transform="translate(321.10,216.4) scale(1.04,1.1)" text-anchor="middle">−15</text><text transform="translate(357.77,216.4) scale(1.04,1.1)" text-anchor="middle">−10</text><text transform="translate(394.43,216.4) scale(1.04,1.1)" text-anchor="middle">−5</text><text transform="translate(430.80,216.4) scale(1.04,1.1)" text-anchor="middle">0</text><text transform="translate(467.47,216.4) scale(1.04,1.1)" text-anchor="middle">5</text><text transform="translate(504.13,216.4) scale(1.04,1.1)" text-anchor="middle">10</text><text transform="translate(538.50,216.4) scale(1.04,1.1)" text-anchor="middle">15</text><text x="430.6" y="233.4" text-anchor="middle" font-size="11">INR(dB)</text><text transform="translate(289.9,113.5) rotate(-90)" text-anchor="middle" font-size="10.85">False alarm rate</text><text x="415.4" y="249.8" text-anchor="middle">(<tspan font-weight="bold">b</tspan>)</text></g>
</svg>
</body></html>
